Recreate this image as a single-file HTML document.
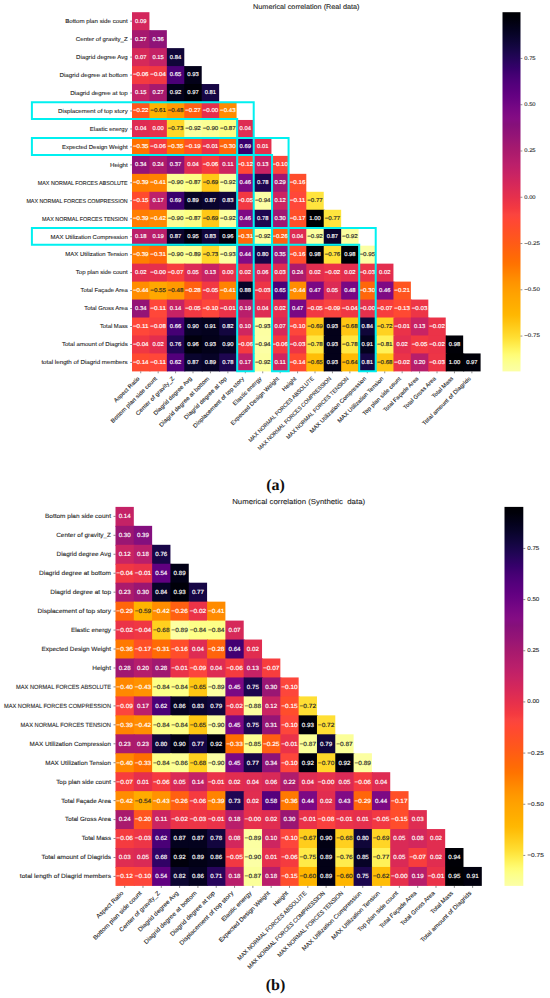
<!DOCTYPE html>
<html><head><meta charset="utf-8"><style>
html,body{margin:0;padding:0;background:#fff;width:550px;height:998px;overflow:hidden;}
svg{display:block;}
text{font-family:"Liberation Sans",sans-serif;white-space:pre;text-rendering:geometricPrecision;}
</style></head><body>
<svg width="550" height="998" viewBox="0 0 550 998">
<rect x="0" y="0" width="550" height="998" fill="#fff"/>
<rect x="132.00" y="12.20" width="17.43" height="18.96" fill="#d3275c"/>
<rect x="132.00" y="30.16" width="18.43" height="18.96" fill="#a6196e"/>
<rect x="149.43" y="30.16" width="17.43" height="18.96" fill="#8f1378"/>
<rect x="132.00" y="48.12" width="18.43" height="18.96" fill="#d62959"/>
<rect x="149.43" y="48.12" width="18.43" height="18.96" fill="#c42266"/>
<rect x="166.86" y="48.12" width="17.43" height="18.96" fill="#100639"/>
<rect x="132.00" y="66.08" width="18.43" height="18.96" fill="#f43a40"/>
<rect x="149.43" y="66.08" width="18.43" height="18.96" fill="#f03743"/>
<rect x="166.86" y="66.08" width="18.43" height="18.96" fill="#4a0077"/>
<rect x="184.29" y="66.08" width="17.43" height="18.96" fill="#030119"/>
<rect x="132.00" y="84.04" width="18.43" height="18.96" fill="#c42266"/>
<rect x="149.43" y="84.04" width="18.43" height="18.96" fill="#a6196e"/>
<rect x="166.86" y="84.04" width="18.43" height="18.96" fill="#03021b"/>
<rect x="184.29" y="84.04" width="18.43" height="18.96" fill="#000009"/>
<rect x="201.72" y="84.04" width="17.43" height="18.96" fill="#160645"/>
<rect x="132.00" y="102.00" width="18.43" height="18.96" fill="#ff561d"/>
<rect x="149.43" y="102.00" width="18.43" height="18.96" fill="#ffb300"/>
<rect x="166.86" y="102.00" width="18.43" height="18.96" fill="#ff9a00"/>
<rect x="184.29" y="102.00" width="18.43" height="18.96" fill="#ff6011"/>
<rect x="201.72" y="102.00" width="18.43" height="18.96" fill="#e6304c"/>
<rect x="219.15" y="102.00" width="17.43" height="18.96" fill="#ff8b00"/>
<rect x="132.00" y="119.96" width="18.43" height="18.96" fill="#de2c53"/>
<rect x="149.43" y="119.96" width="18.43" height="18.96" fill="#e6304c"/>
<rect x="166.86" y="119.96" width="18.43" height="18.96" fill="#ffd729"/>
<rect x="184.29" y="119.96" width="18.43" height="18.96" fill="#fcff9f"/>
<rect x="201.72" y="119.96" width="18.43" height="18.96" fill="#fbff95"/>
<rect x="219.15" y="119.96" width="18.43" height="18.96" fill="#fdff84"/>
<rect x="236.58" y="119.96" width="17.43" height="18.96" fill="#de2c53"/>
<rect x="132.00" y="137.92" width="18.43" height="18.96" fill="#ff7200"/>
<rect x="149.43" y="137.92" width="18.43" height="18.96" fill="#f43a40"/>
<rect x="166.86" y="137.92" width="18.43" height="18.96" fill="#ff7200"/>
<rect x="184.29" y="137.92" width="18.43" height="18.96" fill="#ff5125"/>
<rect x="201.72" y="137.92" width="18.43" height="18.96" fill="#ea3249"/>
<rect x="219.15" y="137.92" width="18.43" height="18.96" fill="#ff660a"/>
<rect x="236.58" y="137.92" width="18.43" height="18.96" fill="#39006d"/>
<rect x="254.01" y="137.92" width="17.43" height="18.96" fill="#e52f4d"/>
<rect x="132.00" y="155.88" width="18.43" height="18.96" fill="#941476"/>
<rect x="149.43" y="155.88" width="18.43" height="18.96" fill="#ad1b6d"/>
<rect x="166.86" y="155.88" width="18.43" height="18.96" fill="#8d1278"/>
<rect x="184.29" y="155.88" width="18.43" height="18.96" fill="#de2c53"/>
<rect x="201.72" y="155.88" width="18.43" height="18.96" fill="#f43a40"/>
<rect x="219.15" y="155.88" width="18.43" height="18.96" fill="#cd2560"/>
<rect x="236.58" y="155.88" width="18.43" height="18.96" fill="#ff4736"/>
<rect x="254.01" y="155.88" width="18.43" height="18.96" fill="#c82364"/>
<rect x="271.44" y="155.88" width="17.43" height="18.96" fill="#fd463b"/>
<rect x="132.00" y="173.84" width="18.43" height="18.96" fill="#ff7e00"/>
<rect x="149.43" y="173.84" width="18.43" height="18.96" fill="#ff8300"/>
<rect x="166.86" y="173.84" width="18.43" height="18.96" fill="#fbff95"/>
<rect x="184.29" y="173.84" width="18.43" height="18.96" fill="#fdff84"/>
<rect x="201.72" y="173.84" width="18.43" height="18.96" fill="#ffc816"/>
<rect x="219.15" y="173.84" width="18.43" height="18.96" fill="#fcff9f"/>
<rect x="236.58" y="173.84" width="18.43" height="18.96" fill="#7e0a84"/>
<rect x="254.01" y="173.84" width="18.43" height="18.96" fill="#1e0650"/>
<rect x="271.44" y="173.84" width="18.43" height="18.96" fill="#a01871"/>
<rect x="288.87" y="173.84" width="17.43" height="18.96" fill="#ff4d2c"/>
<rect x="132.00" y="191.80" width="18.43" height="18.96" fill="#ff4b2e"/>
<rect x="149.43" y="191.80" width="18.43" height="18.96" fill="#be206a"/>
<rect x="166.86" y="191.80" width="18.43" height="18.96" fill="#39006d"/>
<rect x="184.29" y="191.80" width="18.43" height="18.96" fill="#070326"/>
<rect x="201.72" y="191.80" width="18.43" height="18.96" fill="#0a052e"/>
<rect x="219.15" y="191.80" width="18.43" height="18.96" fill="#11063c"/>
<rect x="236.58" y="191.80" width="18.43" height="18.96" fill="#f23842"/>
<rect x="254.01" y="191.80" width="18.43" height="18.96" fill="#fcffa5"/>
<rect x="271.44" y="191.80" width="18.43" height="18.96" fill="#cb2461"/>
<rect x="288.87" y="191.80" width="18.43" height="18.96" fill="#ff4739"/>
<rect x="306.30" y="191.80" width="17.43" height="18.96" fill="#ffe43e"/>
<rect x="132.00" y="209.76" width="18.43" height="18.96" fill="#ff7e00"/>
<rect x="149.43" y="209.76" width="18.43" height="18.96" fill="#ff8800"/>
<rect x="166.86" y="209.76" width="18.43" height="18.96" fill="#fbff95"/>
<rect x="184.29" y="209.76" width="18.43" height="18.96" fill="#fdff84"/>
<rect x="201.72" y="209.76" width="18.43" height="18.96" fill="#ffc816"/>
<rect x="219.15" y="209.76" width="18.43" height="18.96" fill="#fcff9f"/>
<rect x="236.58" y="209.76" width="18.43" height="18.96" fill="#7e0a84"/>
<rect x="254.01" y="209.76" width="18.43" height="18.96" fill="#1e0650"/>
<rect x="271.44" y="209.76" width="18.43" height="18.96" fill="#9e1772"/>
<rect x="288.87" y="209.76" width="18.43" height="18.96" fill="#ff4f28"/>
<rect x="306.30" y="209.76" width="18.43" height="18.96" fill="#000004"/>
<rect x="323.73" y="209.76" width="17.43" height="18.96" fill="#ffe43e"/>
<rect x="132.00" y="227.72" width="18.43" height="18.96" fill="#bc1f6b"/>
<rect x="149.43" y="227.72" width="18.43" height="18.96" fill="#b91e6b"/>
<rect x="166.86" y="227.72" width="18.43" height="18.96" fill="#0a052e"/>
<rect x="184.29" y="227.72" width="18.43" height="18.96" fill="#010011"/>
<rect x="201.72" y="227.72" width="18.43" height="18.96" fill="#11063c"/>
<rect x="219.15" y="227.72" width="18.43" height="18.96" fill="#01000e"/>
<rect x="236.58" y="227.72" width="18.43" height="18.96" fill="#ff6809"/>
<rect x="254.01" y="227.72" width="18.43" height="18.96" fill="#fcff9f"/>
<rect x="271.44" y="227.72" width="18.43" height="18.96" fill="#ff5f13"/>
<rect x="288.87" y="227.72" width="18.43" height="18.96" fill="#de2c53"/>
<rect x="306.30" y="227.72" width="18.43" height="18.96" fill="#fcff9f"/>
<rect x="323.73" y="227.72" width="18.43" height="18.96" fill="#0a052e"/>
<rect x="341.16" y="227.72" width="17.43" height="18.96" fill="#fcff9f"/>
<rect x="132.00" y="245.68" width="18.43" height="18.96" fill="#ff7e00"/>
<rect x="149.43" y="245.68" width="18.43" height="18.96" fill="#ff6809"/>
<rect x="166.86" y="245.68" width="18.43" height="18.96" fill="#fbff95"/>
<rect x="184.29" y="245.68" width="18.43" height="18.96" fill="#fcff91"/>
<rect x="201.72" y="245.68" width="18.43" height="18.96" fill="#ffd729"/>
<rect x="219.15" y="245.68" width="18.43" height="18.96" fill="#fcffa2"/>
<rect x="236.58" y="245.68" width="18.43" height="18.96" fill="#820c85"/>
<rect x="254.01" y="245.68" width="18.43" height="18.96" fill="#180648"/>
<rect x="271.44" y="245.68" width="18.43" height="18.96" fill="#911377"/>
<rect x="288.87" y="245.68" width="18.43" height="18.96" fill="#ff4d2c"/>
<rect x="306.30" y="245.68" width="18.43" height="18.96" fill="#000007"/>
<rect x="323.73" y="245.68" width="18.43" height="18.96" fill="#ffe239"/>
<rect x="341.16" y="245.68" width="18.43" height="18.96" fill="#000007"/>
<rect x="358.59" y="245.68" width="17.43" height="18.96" fill="#fcffa5"/>
<rect x="132.00" y="263.64" width="18.43" height="18.96" fill="#e32e4f"/>
<rect x="149.43" y="263.64" width="18.43" height="18.96" fill="#e6304c"/>
<rect x="166.86" y="263.64" width="18.43" height="18.96" fill="#f73d3d"/>
<rect x="184.29" y="263.64" width="18.43" height="18.96" fill="#dc2b55"/>
<rect x="201.72" y="263.64" width="18.43" height="18.96" fill="#c82364"/>
<rect x="219.15" y="263.64" width="18.43" height="18.96" fill="#e6304c"/>
<rect x="236.58" y="263.64" width="18.43" height="18.96" fill="#e32e4f"/>
<rect x="254.01" y="263.64" width="18.43" height="18.96" fill="#d82958"/>
<rect x="271.44" y="263.64" width="18.43" height="18.96" fill="#df2d52"/>
<rect x="288.87" y="263.64" width="18.43" height="18.96" fill="#ad1b6d"/>
<rect x="306.30" y="263.64" width="18.43" height="18.96" fill="#e32e4f"/>
<rect x="323.73" y="263.64" width="18.43" height="18.96" fill="#eb3348"/>
<rect x="341.16" y="263.64" width="18.43" height="18.96" fill="#e32e4f"/>
<rect x="358.59" y="263.64" width="18.43" height="18.96" fill="#ed3546"/>
<rect x="376.02" y="263.64" width="17.43" height="18.96" fill="#e32e4f"/>
<rect x="132.00" y="281.60" width="18.43" height="18.96" fill="#ff8d00"/>
<rect x="149.43" y="281.60" width="18.43" height="18.96" fill="#ffa800"/>
<rect x="166.86" y="281.60" width="18.43" height="18.96" fill="#ff9a00"/>
<rect x="184.29" y="281.60" width="18.43" height="18.96" fill="#ff610f"/>
<rect x="201.72" y="281.60" width="18.43" height="18.96" fill="#f23842"/>
<rect x="219.15" y="281.60" width="18.43" height="18.96" fill="#ff8300"/>
<rect x="236.58" y="281.60" width="18.43" height="18.96" fill="#080428"/>
<rect x="254.01" y="281.60" width="18.43" height="18.96" fill="#ed3546"/>
<rect x="271.44" y="281.60" width="18.43" height="18.96" fill="#4a0077"/>
<rect x="288.87" y="281.60" width="18.43" height="18.96" fill="#ff8d00"/>
<rect x="306.30" y="281.60" width="18.43" height="18.96" fill="#7a0884"/>
<rect x="323.73" y="281.60" width="18.43" height="18.96" fill="#dc2b55"/>
<rect x="341.16" y="281.60" width="18.43" height="18.96" fill="#780884"/>
<rect x="358.59" y="281.60" width="18.43" height="18.96" fill="#ff660a"/>
<rect x="376.02" y="281.60" width="18.43" height="18.96" fill="#7e0a84"/>
<rect x="393.45" y="281.60" width="17.43" height="18.96" fill="#ff551f"/>
<rect x="132.00" y="299.56" width="18.43" height="18.96" fill="#941476"/>
<rect x="149.43" y="299.56" width="18.43" height="18.96" fill="#ff4739"/>
<rect x="166.86" y="299.56" width="18.43" height="18.96" fill="#c62265"/>
<rect x="184.29" y="299.56" width="18.43" height="18.96" fill="#f23842"/>
<rect x="201.72" y="299.56" width="18.43" height="18.96" fill="#fd463b"/>
<rect x="219.15" y="299.56" width="18.43" height="18.96" fill="#ea3249"/>
<rect x="236.58" y="299.56" width="18.43" height="18.96" fill="#b91e6b"/>
<rect x="254.01" y="299.56" width="18.43" height="18.96" fill="#de2c53"/>
<rect x="271.44" y="299.56" width="18.43" height="18.96" fill="#e32e4f"/>
<rect x="288.87" y="299.56" width="18.43" height="18.96" fill="#7a0884"/>
<rect x="306.30" y="299.56" width="18.43" height="18.96" fill="#f23842"/>
<rect x="323.73" y="299.56" width="18.43" height="18.96" fill="#fa443f"/>
<rect x="341.16" y="299.56" width="18.43" height="18.96" fill="#f03743"/>
<rect x="358.59" y="299.56" width="18.43" height="18.96" fill="#e6304c"/>
<rect x="376.02" y="299.56" width="18.43" height="18.96" fill="#f73d3d"/>
<rect x="393.45" y="299.56" width="18.43" height="18.96" fill="#ff4932"/>
<rect x="410.88" y="299.56" width="17.43" height="18.96" fill="#ed3546"/>
<rect x="132.00" y="317.52" width="18.43" height="18.96" fill="#ff4739"/>
<rect x="149.43" y="317.52" width="18.43" height="18.96" fill="#f9403e"/>
<rect x="166.86" y="317.52" width="18.43" height="18.96" fill="#450074"/>
<rect x="184.29" y="317.52" width="18.43" height="18.96" fill="#060323"/>
<rect x="201.72" y="317.52" width="18.43" height="18.96" fill="#04021e"/>
<rect x="219.15" y="317.52" width="18.43" height="18.96" fill="#13063f"/>
<rect x="236.58" y="317.52" width="18.43" height="18.96" fill="#cf265f"/>
<rect x="254.01" y="317.52" width="18.43" height="18.96" fill="#fcffa2"/>
<rect x="271.44" y="317.52" width="18.43" height="18.96" fill="#d62959"/>
<rect x="288.87" y="317.52" width="18.43" height="18.96" fill="#fd463b"/>
<rect x="306.30" y="317.52" width="18.43" height="18.96" fill="#ffc816"/>
<rect x="323.73" y="317.52" width="18.43" height="18.96" fill="#030119"/>
<rect x="341.16" y="317.52" width="18.43" height="18.96" fill="#ffc613"/>
<rect x="358.59" y="317.52" width="18.43" height="18.96" fill="#100639"/>
<rect x="376.02" y="317.52" width="18.43" height="18.96" fill="#ffd222"/>
<rect x="393.45" y="317.52" width="18.43" height="18.96" fill="#ea3249"/>
<rect x="410.88" y="317.52" width="18.43" height="18.96" fill="#c82364"/>
<rect x="428.31" y="317.52" width="17.43" height="18.96" fill="#eb3348"/>
<rect x="132.00" y="335.48" width="18.43" height="18.96" fill="#f03743"/>
<rect x="149.43" y="335.48" width="18.43" height="18.96" fill="#e32e4f"/>
<rect x="166.86" y="335.48" width="18.43" height="18.96" fill="#220556"/>
<rect x="184.29" y="335.48" width="18.43" height="18.96" fill="#01000e"/>
<rect x="201.72" y="335.48" width="18.43" height="18.96" fill="#030119"/>
<rect x="219.15" y="335.48" width="18.43" height="18.96" fill="#060323"/>
<rect x="236.58" y="335.48" width="18.43" height="18.96" fill="#f43a40"/>
<rect x="254.01" y="335.48" width="18.43" height="18.96" fill="#fcffa5"/>
<rect x="271.44" y="335.48" width="18.43" height="18.96" fill="#f43a40"/>
<rect x="288.87" y="335.48" width="18.43" height="18.96" fill="#ed3546"/>
<rect x="306.30" y="335.48" width="18.43" height="18.96" fill="#ffe743"/>
<rect x="323.73" y="335.48" width="18.43" height="18.96" fill="#030119"/>
<rect x="341.16" y="335.48" width="18.43" height="18.96" fill="#ffe743"/>
<rect x="358.59" y="335.48" width="18.43" height="18.96" fill="#04021e"/>
<rect x="376.02" y="335.48" width="18.43" height="18.96" fill="#fff159"/>
<rect x="393.45" y="335.48" width="18.43" height="18.96" fill="#e32e4f"/>
<rect x="410.88" y="335.48" width="18.43" height="18.96" fill="#f23842"/>
<rect x="428.31" y="335.48" width="18.43" height="18.96" fill="#eb3348"/>
<rect x="445.74" y="335.48" width="17.43" height="18.96" fill="#000007"/>
<rect x="132.00" y="353.44" width="18.43" height="17.96" fill="#ff4a30"/>
<rect x="149.43" y="353.44" width="18.43" height="17.96" fill="#ff4739"/>
<rect x="166.86" y="353.44" width="18.43" height="17.96" fill="#52007b"/>
<rect x="184.29" y="353.44" width="18.43" height="17.96" fill="#0a052e"/>
<rect x="201.72" y="353.44" width="18.43" height="17.96" fill="#070326"/>
<rect x="219.15" y="353.44" width="18.43" height="17.96" fill="#1e0650"/>
<rect x="236.58" y="353.44" width="18.43" height="17.96" fill="#be206a"/>
<rect x="254.01" y="353.44" width="18.43" height="17.96" fill="#fcff9f"/>
<rect x="271.44" y="353.44" width="18.43" height="17.96" fill="#cd2560"/>
<rect x="288.87" y="353.44" width="18.43" height="17.96" fill="#ff4a30"/>
<rect x="306.30" y="353.44" width="18.43" height="17.96" fill="#ffbd07"/>
<rect x="323.73" y="353.44" width="18.43" height="17.96" fill="#030119"/>
<rect x="341.16" y="353.44" width="18.43" height="17.96" fill="#ffba05"/>
<rect x="358.59" y="353.44" width="18.43" height="17.96" fill="#160645"/>
<rect x="376.02" y="353.44" width="18.43" height="17.96" fill="#ffc613"/>
<rect x="393.45" y="353.44" width="18.43" height="17.96" fill="#eb3348"/>
<rect x="410.88" y="353.44" width="18.43" height="17.96" fill="#b71e6b"/>
<rect x="428.31" y="353.44" width="18.43" height="17.96" fill="#ed3546"/>
<rect x="445.74" y="353.44" width="18.43" height="17.96" fill="#000004"/>
<rect x="463.17" y="353.44" width="17.43" height="17.96" fill="#000009"/>
<text x="140.72" y="22.59" font-size="5.61" text-anchor="middle" fill="#ffffff" stroke="#ffffff" stroke-width="0.15" textLength="11.36" lengthAdjust="spacingAndGlyphs">0.09</text>
<text x="140.72" y="40.55" font-size="5.61" text-anchor="middle" fill="#ffffff" stroke="#ffffff" stroke-width="0.15" textLength="11.36" lengthAdjust="spacingAndGlyphs">0.27</text>
<text x="158.15" y="40.55" font-size="5.61" text-anchor="middle" fill="#ffffff" stroke="#ffffff" stroke-width="0.15" textLength="11.36" lengthAdjust="spacingAndGlyphs">0.36</text>
<text x="140.72" y="58.51" font-size="5.61" text-anchor="middle" fill="#ffffff" stroke="#ffffff" stroke-width="0.15" textLength="11.36" lengthAdjust="spacingAndGlyphs">0.07</text>
<text x="158.15" y="58.51" font-size="5.61" text-anchor="middle" fill="#ffffff" stroke="#ffffff" stroke-width="0.15" textLength="11.36" lengthAdjust="spacingAndGlyphs">0.15</text>
<text x="175.57" y="58.51" font-size="5.61" text-anchor="middle" fill="#ffffff" stroke="#ffffff" stroke-width="0.15" textLength="11.36" lengthAdjust="spacingAndGlyphs">0.84</text>
<text x="140.72" y="76.47" font-size="5.61" text-anchor="middle" fill="#ffffff" stroke="#ffffff" stroke-width="0.15" textLength="15.63" lengthAdjust="spacingAndGlyphs">−0.06</text>
<text x="158.15" y="76.47" font-size="5.61" text-anchor="middle" fill="#ffffff" stroke="#ffffff" stroke-width="0.15" textLength="15.63" lengthAdjust="spacingAndGlyphs">−0.04</text>
<text x="175.57" y="76.47" font-size="5.61" text-anchor="middle" fill="#ffffff" stroke="#ffffff" stroke-width="0.15" textLength="11.36" lengthAdjust="spacingAndGlyphs">0.65</text>
<text x="193.00" y="76.47" font-size="5.61" text-anchor="middle" fill="#ffffff" stroke="#ffffff" stroke-width="0.15" textLength="11.36" lengthAdjust="spacingAndGlyphs">0.93</text>
<text x="140.72" y="94.43" font-size="5.61" text-anchor="middle" fill="#ffffff" stroke="#ffffff" stroke-width="0.15" textLength="11.36" lengthAdjust="spacingAndGlyphs">0.15</text>
<text x="158.15" y="94.43" font-size="5.61" text-anchor="middle" fill="#ffffff" stroke="#ffffff" stroke-width="0.15" textLength="11.36" lengthAdjust="spacingAndGlyphs">0.27</text>
<text x="175.57" y="94.43" font-size="5.61" text-anchor="middle" fill="#ffffff" stroke="#ffffff" stroke-width="0.15" textLength="11.36" lengthAdjust="spacingAndGlyphs">0.92</text>
<text x="193.00" y="94.43" font-size="5.61" text-anchor="middle" fill="#ffffff" stroke="#ffffff" stroke-width="0.15" textLength="11.36" lengthAdjust="spacingAndGlyphs">0.97</text>
<text x="210.44" y="94.43" font-size="5.61" text-anchor="middle" fill="#ffffff" stroke="#ffffff" stroke-width="0.15" textLength="11.36" lengthAdjust="spacingAndGlyphs">0.81</text>
<text x="140.72" y="112.39" font-size="5.61" text-anchor="middle" fill="#ffffff" stroke="#ffffff" stroke-width="0.15" textLength="15.63" lengthAdjust="spacingAndGlyphs">−0.22</text>
<text x="158.15" y="112.39" font-size="5.61" text-anchor="middle" fill="#262626" stroke="#262626" stroke-width="0.15" textLength="15.63" lengthAdjust="spacingAndGlyphs">−0.61</text>
<text x="175.57" y="112.39" font-size="5.61" text-anchor="middle" fill="#262626" stroke="#262626" stroke-width="0.15" textLength="15.63" lengthAdjust="spacingAndGlyphs">−0.48</text>
<text x="193.00" y="112.39" font-size="5.61" text-anchor="middle" fill="#ffffff" stroke="#ffffff" stroke-width="0.15" textLength="15.63" lengthAdjust="spacingAndGlyphs">−0.27</text>
<text x="210.44" y="112.39" font-size="5.61" text-anchor="middle" fill="#ffffff" stroke="#ffffff" stroke-width="0.15" textLength="15.63" lengthAdjust="spacingAndGlyphs">−0.00</text>
<text x="227.87" y="112.39" font-size="5.61" text-anchor="middle" fill="#ffffff" stroke="#ffffff" stroke-width="0.15" textLength="15.63" lengthAdjust="spacingAndGlyphs">−0.43</text>
<text x="140.72" y="130.35" font-size="5.61" text-anchor="middle" fill="#ffffff" stroke="#ffffff" stroke-width="0.15" textLength="11.36" lengthAdjust="spacingAndGlyphs">0.04</text>
<text x="158.15" y="130.35" font-size="5.61" text-anchor="middle" fill="#ffffff" stroke="#ffffff" stroke-width="0.15" textLength="11.36" lengthAdjust="spacingAndGlyphs">0.00</text>
<text x="175.57" y="130.35" font-size="5.61" text-anchor="middle" fill="#262626" stroke="#262626" stroke-width="0.15" textLength="15.63" lengthAdjust="spacingAndGlyphs">−0.73</text>
<text x="193.00" y="130.35" font-size="5.61" text-anchor="middle" fill="#262626" stroke="#262626" stroke-width="0.15" textLength="15.63" lengthAdjust="spacingAndGlyphs">−0.92</text>
<text x="210.44" y="130.35" font-size="5.61" text-anchor="middle" fill="#262626" stroke="#262626" stroke-width="0.15" textLength="15.63" lengthAdjust="spacingAndGlyphs">−0.90</text>
<text x="227.87" y="130.35" font-size="5.61" text-anchor="middle" fill="#262626" stroke="#262626" stroke-width="0.15" textLength="15.63" lengthAdjust="spacingAndGlyphs">−0.87</text>
<text x="245.30" y="130.35" font-size="5.61" text-anchor="middle" fill="#ffffff" stroke="#ffffff" stroke-width="0.15" textLength="11.36" lengthAdjust="spacingAndGlyphs">0.04</text>
<text x="140.72" y="148.31" font-size="5.61" text-anchor="middle" fill="#ffffff" stroke="#ffffff" stroke-width="0.15" textLength="15.63" lengthAdjust="spacingAndGlyphs">−0.35</text>
<text x="158.15" y="148.31" font-size="5.61" text-anchor="middle" fill="#ffffff" stroke="#ffffff" stroke-width="0.15" textLength="15.63" lengthAdjust="spacingAndGlyphs">−0.06</text>
<text x="175.57" y="148.31" font-size="5.61" text-anchor="middle" fill="#ffffff" stroke="#ffffff" stroke-width="0.15" textLength="15.63" lengthAdjust="spacingAndGlyphs">−0.35</text>
<text x="193.00" y="148.31" font-size="5.61" text-anchor="middle" fill="#ffffff" stroke="#ffffff" stroke-width="0.15" textLength="15.63" lengthAdjust="spacingAndGlyphs">−0.19</text>
<text x="210.44" y="148.31" font-size="5.61" text-anchor="middle" fill="#ffffff" stroke="#ffffff" stroke-width="0.15" textLength="15.63" lengthAdjust="spacingAndGlyphs">−0.01</text>
<text x="227.87" y="148.31" font-size="5.61" text-anchor="middle" fill="#ffffff" stroke="#ffffff" stroke-width="0.15" textLength="15.63" lengthAdjust="spacingAndGlyphs">−0.30</text>
<text x="245.30" y="148.31" font-size="5.61" text-anchor="middle" fill="#ffffff" stroke="#ffffff" stroke-width="0.15" textLength="11.36" lengthAdjust="spacingAndGlyphs">0.69</text>
<text x="262.73" y="148.31" font-size="5.61" text-anchor="middle" fill="#ffffff" stroke="#ffffff" stroke-width="0.15" textLength="11.36" lengthAdjust="spacingAndGlyphs">0.01</text>
<text x="140.72" y="166.27" font-size="5.61" text-anchor="middle" fill="#ffffff" stroke="#ffffff" stroke-width="0.15" textLength="11.36" lengthAdjust="spacingAndGlyphs">0.34</text>
<text x="158.15" y="166.27" font-size="5.61" text-anchor="middle" fill="#ffffff" stroke="#ffffff" stroke-width="0.15" textLength="11.36" lengthAdjust="spacingAndGlyphs">0.24</text>
<text x="175.57" y="166.27" font-size="5.61" text-anchor="middle" fill="#ffffff" stroke="#ffffff" stroke-width="0.15" textLength="11.36" lengthAdjust="spacingAndGlyphs">0.37</text>
<text x="193.00" y="166.27" font-size="5.61" text-anchor="middle" fill="#ffffff" stroke="#ffffff" stroke-width="0.15" textLength="11.36" lengthAdjust="spacingAndGlyphs">0.04</text>
<text x="210.44" y="166.27" font-size="5.61" text-anchor="middle" fill="#ffffff" stroke="#ffffff" stroke-width="0.15" textLength="15.63" lengthAdjust="spacingAndGlyphs">−0.06</text>
<text x="227.87" y="166.27" font-size="5.61" text-anchor="middle" fill="#ffffff" stroke="#ffffff" stroke-width="0.15" textLength="11.36" lengthAdjust="spacingAndGlyphs">0.11</text>
<text x="245.30" y="166.27" font-size="5.61" text-anchor="middle" fill="#ffffff" stroke="#ffffff" stroke-width="0.15" textLength="15.63" lengthAdjust="spacingAndGlyphs">−0.12</text>
<text x="262.73" y="166.27" font-size="5.61" text-anchor="middle" fill="#ffffff" stroke="#ffffff" stroke-width="0.15" textLength="11.36" lengthAdjust="spacingAndGlyphs">0.13</text>
<text x="280.15" y="166.27" font-size="5.61" text-anchor="middle" fill="#ffffff" stroke="#ffffff" stroke-width="0.15" textLength="15.63" lengthAdjust="spacingAndGlyphs">−0.10</text>
<text x="140.72" y="184.23" font-size="5.61" text-anchor="middle" fill="#ffffff" stroke="#ffffff" stroke-width="0.15" textLength="15.63" lengthAdjust="spacingAndGlyphs">−0.39</text>
<text x="158.15" y="184.23" font-size="5.61" text-anchor="middle" fill="#ffffff" stroke="#ffffff" stroke-width="0.15" textLength="15.63" lengthAdjust="spacingAndGlyphs">−0.41</text>
<text x="175.57" y="184.23" font-size="5.61" text-anchor="middle" fill="#262626" stroke="#262626" stroke-width="0.15" textLength="15.63" lengthAdjust="spacingAndGlyphs">−0.90</text>
<text x="193.00" y="184.23" font-size="5.61" text-anchor="middle" fill="#262626" stroke="#262626" stroke-width="0.15" textLength="15.63" lengthAdjust="spacingAndGlyphs">−0.87</text>
<text x="210.44" y="184.23" font-size="5.61" text-anchor="middle" fill="#262626" stroke="#262626" stroke-width="0.15" textLength="15.63" lengthAdjust="spacingAndGlyphs">−0.69</text>
<text x="227.87" y="184.23" font-size="5.61" text-anchor="middle" fill="#262626" stroke="#262626" stroke-width="0.15" textLength="15.63" lengthAdjust="spacingAndGlyphs">−0.92</text>
<text x="245.30" y="184.23" font-size="5.61" text-anchor="middle" fill="#ffffff" stroke="#ffffff" stroke-width="0.15" textLength="11.36" lengthAdjust="spacingAndGlyphs">0.46</text>
<text x="262.73" y="184.23" font-size="5.61" text-anchor="middle" fill="#ffffff" stroke="#ffffff" stroke-width="0.15" textLength="11.36" lengthAdjust="spacingAndGlyphs">0.78</text>
<text x="280.15" y="184.23" font-size="5.61" text-anchor="middle" fill="#ffffff" stroke="#ffffff" stroke-width="0.15" textLength="11.36" lengthAdjust="spacingAndGlyphs">0.29</text>
<text x="297.59" y="184.23" font-size="5.61" text-anchor="middle" fill="#ffffff" stroke="#ffffff" stroke-width="0.15" textLength="15.63" lengthAdjust="spacingAndGlyphs">−0.16</text>
<text x="140.72" y="202.19" font-size="5.61" text-anchor="middle" fill="#ffffff" stroke="#ffffff" stroke-width="0.15" textLength="15.63" lengthAdjust="spacingAndGlyphs">−0.15</text>
<text x="158.15" y="202.19" font-size="5.61" text-anchor="middle" fill="#ffffff" stroke="#ffffff" stroke-width="0.15" textLength="11.36" lengthAdjust="spacingAndGlyphs">0.17</text>
<text x="175.57" y="202.19" font-size="5.61" text-anchor="middle" fill="#ffffff" stroke="#ffffff" stroke-width="0.15" textLength="11.36" lengthAdjust="spacingAndGlyphs">0.69</text>
<text x="193.00" y="202.19" font-size="5.61" text-anchor="middle" fill="#ffffff" stroke="#ffffff" stroke-width="0.15" textLength="11.36" lengthAdjust="spacingAndGlyphs">0.89</text>
<text x="210.44" y="202.19" font-size="5.61" text-anchor="middle" fill="#ffffff" stroke="#ffffff" stroke-width="0.15" textLength="11.36" lengthAdjust="spacingAndGlyphs">0.87</text>
<text x="227.87" y="202.19" font-size="5.61" text-anchor="middle" fill="#ffffff" stroke="#ffffff" stroke-width="0.15" textLength="11.36" lengthAdjust="spacingAndGlyphs">0.83</text>
<text x="245.30" y="202.19" font-size="5.61" text-anchor="middle" fill="#ffffff" stroke="#ffffff" stroke-width="0.15" textLength="15.63" lengthAdjust="spacingAndGlyphs">−0.05</text>
<text x="262.73" y="202.19" font-size="5.61" text-anchor="middle" fill="#262626" stroke="#262626" stroke-width="0.15" textLength="15.63" lengthAdjust="spacingAndGlyphs">−0.94</text>
<text x="280.15" y="202.19" font-size="5.61" text-anchor="middle" fill="#ffffff" stroke="#ffffff" stroke-width="0.15" textLength="11.36" lengthAdjust="spacingAndGlyphs">0.12</text>
<text x="297.59" y="202.19" font-size="5.61" text-anchor="middle" fill="#ffffff" stroke="#ffffff" stroke-width="0.15" textLength="15.63" lengthAdjust="spacingAndGlyphs">−0.11</text>
<text x="315.01" y="202.19" font-size="5.61" text-anchor="middle" fill="#262626" stroke="#262626" stroke-width="0.15" textLength="15.63" lengthAdjust="spacingAndGlyphs">−0.77</text>
<text x="140.72" y="220.15" font-size="5.61" text-anchor="middle" fill="#ffffff" stroke="#ffffff" stroke-width="0.15" textLength="15.63" lengthAdjust="spacingAndGlyphs">−0.39</text>
<text x="158.15" y="220.15" font-size="5.61" text-anchor="middle" fill="#ffffff" stroke="#ffffff" stroke-width="0.15" textLength="15.63" lengthAdjust="spacingAndGlyphs">−0.42</text>
<text x="175.57" y="220.15" font-size="5.61" text-anchor="middle" fill="#262626" stroke="#262626" stroke-width="0.15" textLength="15.63" lengthAdjust="spacingAndGlyphs">−0.90</text>
<text x="193.00" y="220.15" font-size="5.61" text-anchor="middle" fill="#262626" stroke="#262626" stroke-width="0.15" textLength="15.63" lengthAdjust="spacingAndGlyphs">−0.87</text>
<text x="210.44" y="220.15" font-size="5.61" text-anchor="middle" fill="#262626" stroke="#262626" stroke-width="0.15" textLength="15.63" lengthAdjust="spacingAndGlyphs">−0.69</text>
<text x="227.87" y="220.15" font-size="5.61" text-anchor="middle" fill="#262626" stroke="#262626" stroke-width="0.15" textLength="15.63" lengthAdjust="spacingAndGlyphs">−0.92</text>
<text x="245.30" y="220.15" font-size="5.61" text-anchor="middle" fill="#ffffff" stroke="#ffffff" stroke-width="0.15" textLength="11.36" lengthAdjust="spacingAndGlyphs">0.46</text>
<text x="262.73" y="220.15" font-size="5.61" text-anchor="middle" fill="#ffffff" stroke="#ffffff" stroke-width="0.15" textLength="11.36" lengthAdjust="spacingAndGlyphs">0.78</text>
<text x="280.15" y="220.15" font-size="5.61" text-anchor="middle" fill="#ffffff" stroke="#ffffff" stroke-width="0.15" textLength="11.36" lengthAdjust="spacingAndGlyphs">0.30</text>
<text x="297.59" y="220.15" font-size="5.61" text-anchor="middle" fill="#ffffff" stroke="#ffffff" stroke-width="0.15" textLength="15.63" lengthAdjust="spacingAndGlyphs">−0.17</text>
<text x="315.01" y="220.15" font-size="5.61" text-anchor="middle" fill="#ffffff" stroke="#ffffff" stroke-width="0.15" textLength="11.36" lengthAdjust="spacingAndGlyphs">1.00</text>
<text x="332.44" y="220.15" font-size="5.61" text-anchor="middle" fill="#262626" stroke="#262626" stroke-width="0.15" textLength="15.63" lengthAdjust="spacingAndGlyphs">−0.77</text>
<text x="140.72" y="238.11" font-size="5.61" text-anchor="middle" fill="#ffffff" stroke="#ffffff" stroke-width="0.15" textLength="11.36" lengthAdjust="spacingAndGlyphs">0.18</text>
<text x="158.15" y="238.11" font-size="5.61" text-anchor="middle" fill="#ffffff" stroke="#ffffff" stroke-width="0.15" textLength="11.36" lengthAdjust="spacingAndGlyphs">0.19</text>
<text x="175.57" y="238.11" font-size="5.61" text-anchor="middle" fill="#ffffff" stroke="#ffffff" stroke-width="0.15" textLength="11.36" lengthAdjust="spacingAndGlyphs">0.87</text>
<text x="193.00" y="238.11" font-size="5.61" text-anchor="middle" fill="#ffffff" stroke="#ffffff" stroke-width="0.15" textLength="11.36" lengthAdjust="spacingAndGlyphs">0.95</text>
<text x="210.44" y="238.11" font-size="5.61" text-anchor="middle" fill="#ffffff" stroke="#ffffff" stroke-width="0.15" textLength="11.36" lengthAdjust="spacingAndGlyphs">0.83</text>
<text x="227.87" y="238.11" font-size="5.61" text-anchor="middle" fill="#ffffff" stroke="#ffffff" stroke-width="0.15" textLength="11.36" lengthAdjust="spacingAndGlyphs">0.96</text>
<text x="245.30" y="238.11" font-size="5.61" text-anchor="middle" fill="#ffffff" stroke="#ffffff" stroke-width="0.15" textLength="15.63" lengthAdjust="spacingAndGlyphs">−0.31</text>
<text x="262.73" y="238.11" font-size="5.61" text-anchor="middle" fill="#262626" stroke="#262626" stroke-width="0.15" textLength="15.63" lengthAdjust="spacingAndGlyphs">−0.92</text>
<text x="280.15" y="238.11" font-size="5.61" text-anchor="middle" fill="#ffffff" stroke="#ffffff" stroke-width="0.15" textLength="15.63" lengthAdjust="spacingAndGlyphs">−0.26</text>
<text x="297.59" y="238.11" font-size="5.61" text-anchor="middle" fill="#ffffff" stroke="#ffffff" stroke-width="0.15" textLength="11.36" lengthAdjust="spacingAndGlyphs">0.04</text>
<text x="315.01" y="238.11" font-size="5.61" text-anchor="middle" fill="#262626" stroke="#262626" stroke-width="0.15" textLength="15.63" lengthAdjust="spacingAndGlyphs">−0.92</text>
<text x="332.44" y="238.11" font-size="5.61" text-anchor="middle" fill="#ffffff" stroke="#ffffff" stroke-width="0.15" textLength="11.36" lengthAdjust="spacingAndGlyphs">0.87</text>
<text x="349.88" y="238.11" font-size="5.61" text-anchor="middle" fill="#262626" stroke="#262626" stroke-width="0.15" textLength="15.63" lengthAdjust="spacingAndGlyphs">−0.92</text>
<text x="140.72" y="256.07" font-size="5.61" text-anchor="middle" fill="#ffffff" stroke="#ffffff" stroke-width="0.15" textLength="15.63" lengthAdjust="spacingAndGlyphs">−0.39</text>
<text x="158.15" y="256.07" font-size="5.61" text-anchor="middle" fill="#ffffff" stroke="#ffffff" stroke-width="0.15" textLength="15.63" lengthAdjust="spacingAndGlyphs">−0.31</text>
<text x="175.57" y="256.07" font-size="5.61" text-anchor="middle" fill="#262626" stroke="#262626" stroke-width="0.15" textLength="15.63" lengthAdjust="spacingAndGlyphs">−0.90</text>
<text x="193.00" y="256.07" font-size="5.61" text-anchor="middle" fill="#262626" stroke="#262626" stroke-width="0.15" textLength="15.63" lengthAdjust="spacingAndGlyphs">−0.89</text>
<text x="210.44" y="256.07" font-size="5.61" text-anchor="middle" fill="#262626" stroke="#262626" stroke-width="0.15" textLength="15.63" lengthAdjust="spacingAndGlyphs">−0.73</text>
<text x="227.87" y="256.07" font-size="5.61" text-anchor="middle" fill="#262626" stroke="#262626" stroke-width="0.15" textLength="15.63" lengthAdjust="spacingAndGlyphs">−0.93</text>
<text x="245.30" y="256.07" font-size="5.61" text-anchor="middle" fill="#ffffff" stroke="#ffffff" stroke-width="0.15" textLength="11.36" lengthAdjust="spacingAndGlyphs">0.44</text>
<text x="262.73" y="256.07" font-size="5.61" text-anchor="middle" fill="#ffffff" stroke="#ffffff" stroke-width="0.15" textLength="11.36" lengthAdjust="spacingAndGlyphs">0.80</text>
<text x="280.15" y="256.07" font-size="5.61" text-anchor="middle" fill="#ffffff" stroke="#ffffff" stroke-width="0.15" textLength="11.36" lengthAdjust="spacingAndGlyphs">0.35</text>
<text x="297.59" y="256.07" font-size="5.61" text-anchor="middle" fill="#ffffff" stroke="#ffffff" stroke-width="0.15" textLength="15.63" lengthAdjust="spacingAndGlyphs">−0.16</text>
<text x="315.01" y="256.07" font-size="5.61" text-anchor="middle" fill="#ffffff" stroke="#ffffff" stroke-width="0.15" textLength="11.36" lengthAdjust="spacingAndGlyphs">0.98</text>
<text x="332.44" y="256.07" font-size="5.61" text-anchor="middle" fill="#262626" stroke="#262626" stroke-width="0.15" textLength="15.63" lengthAdjust="spacingAndGlyphs">−0.76</text>
<text x="349.88" y="256.07" font-size="5.61" text-anchor="middle" fill="#ffffff" stroke="#ffffff" stroke-width="0.15" textLength="11.36" lengthAdjust="spacingAndGlyphs">0.98</text>
<text x="367.31" y="256.07" font-size="5.61" text-anchor="middle" fill="#262626" stroke="#262626" stroke-width="0.15" textLength="15.63" lengthAdjust="spacingAndGlyphs">−0.95</text>
<text x="140.72" y="274.03" font-size="5.61" text-anchor="middle" fill="#ffffff" stroke="#ffffff" stroke-width="0.15" textLength="11.36" lengthAdjust="spacingAndGlyphs">0.02</text>
<text x="158.15" y="274.03" font-size="5.61" text-anchor="middle" fill="#ffffff" stroke="#ffffff" stroke-width="0.15" textLength="15.63" lengthAdjust="spacingAndGlyphs">−0.00</text>
<text x="175.57" y="274.03" font-size="5.61" text-anchor="middle" fill="#ffffff" stroke="#ffffff" stroke-width="0.15" textLength="15.63" lengthAdjust="spacingAndGlyphs">−0.07</text>
<text x="193.00" y="274.03" font-size="5.61" text-anchor="middle" fill="#ffffff" stroke="#ffffff" stroke-width="0.15" textLength="11.36" lengthAdjust="spacingAndGlyphs">0.05</text>
<text x="210.44" y="274.03" font-size="5.61" text-anchor="middle" fill="#ffffff" stroke="#ffffff" stroke-width="0.15" textLength="11.36" lengthAdjust="spacingAndGlyphs">0.13</text>
<text x="227.87" y="274.03" font-size="5.61" text-anchor="middle" fill="#ffffff" stroke="#ffffff" stroke-width="0.15" textLength="11.36" lengthAdjust="spacingAndGlyphs">0.00</text>
<text x="245.30" y="274.03" font-size="5.61" text-anchor="middle" fill="#ffffff" stroke="#ffffff" stroke-width="0.15" textLength="11.36" lengthAdjust="spacingAndGlyphs">0.02</text>
<text x="262.73" y="274.03" font-size="5.61" text-anchor="middle" fill="#ffffff" stroke="#ffffff" stroke-width="0.15" textLength="11.36" lengthAdjust="spacingAndGlyphs">0.06</text>
<text x="280.15" y="274.03" font-size="5.61" text-anchor="middle" fill="#ffffff" stroke="#ffffff" stroke-width="0.15" textLength="11.36" lengthAdjust="spacingAndGlyphs">0.03</text>
<text x="297.59" y="274.03" font-size="5.61" text-anchor="middle" fill="#ffffff" stroke="#ffffff" stroke-width="0.15" textLength="11.36" lengthAdjust="spacingAndGlyphs">0.24</text>
<text x="315.01" y="274.03" font-size="5.61" text-anchor="middle" fill="#ffffff" stroke="#ffffff" stroke-width="0.15" textLength="11.36" lengthAdjust="spacingAndGlyphs">0.02</text>
<text x="332.44" y="274.03" font-size="5.61" text-anchor="middle" fill="#ffffff" stroke="#ffffff" stroke-width="0.15" textLength="15.63" lengthAdjust="spacingAndGlyphs">−0.02</text>
<text x="349.88" y="274.03" font-size="5.61" text-anchor="middle" fill="#ffffff" stroke="#ffffff" stroke-width="0.15" textLength="11.36" lengthAdjust="spacingAndGlyphs">0.02</text>
<text x="367.31" y="274.03" font-size="5.61" text-anchor="middle" fill="#ffffff" stroke="#ffffff" stroke-width="0.15" textLength="15.63" lengthAdjust="spacingAndGlyphs">−0.03</text>
<text x="384.74" y="274.03" font-size="5.61" text-anchor="middle" fill="#ffffff" stroke="#ffffff" stroke-width="0.15" textLength="11.36" lengthAdjust="spacingAndGlyphs">0.02</text>
<text x="140.72" y="291.99" font-size="5.61" text-anchor="middle" fill="#ffffff" stroke="#ffffff" stroke-width="0.15" textLength="15.63" lengthAdjust="spacingAndGlyphs">−0.44</text>
<text x="158.15" y="291.99" font-size="5.61" text-anchor="middle" fill="#262626" stroke="#262626" stroke-width="0.15" textLength="15.63" lengthAdjust="spacingAndGlyphs">−0.55</text>
<text x="175.57" y="291.99" font-size="5.61" text-anchor="middle" fill="#262626" stroke="#262626" stroke-width="0.15" textLength="15.63" lengthAdjust="spacingAndGlyphs">−0.48</text>
<text x="193.00" y="291.99" font-size="5.61" text-anchor="middle" fill="#ffffff" stroke="#ffffff" stroke-width="0.15" textLength="15.63" lengthAdjust="spacingAndGlyphs">−0.28</text>
<text x="210.44" y="291.99" font-size="5.61" text-anchor="middle" fill="#ffffff" stroke="#ffffff" stroke-width="0.15" textLength="15.63" lengthAdjust="spacingAndGlyphs">−0.05</text>
<text x="227.87" y="291.99" font-size="5.61" text-anchor="middle" fill="#ffffff" stroke="#ffffff" stroke-width="0.15" textLength="15.63" lengthAdjust="spacingAndGlyphs">−0.41</text>
<text x="245.30" y="291.99" font-size="5.61" text-anchor="middle" fill="#ffffff" stroke="#ffffff" stroke-width="0.15" textLength="11.36" lengthAdjust="spacingAndGlyphs">0.88</text>
<text x="262.73" y="291.99" font-size="5.61" text-anchor="middle" fill="#ffffff" stroke="#ffffff" stroke-width="0.15" textLength="15.63" lengthAdjust="spacingAndGlyphs">−0.03</text>
<text x="280.15" y="291.99" font-size="5.61" text-anchor="middle" fill="#ffffff" stroke="#ffffff" stroke-width="0.15" textLength="11.36" lengthAdjust="spacingAndGlyphs">0.65</text>
<text x="297.59" y="291.99" font-size="5.61" text-anchor="middle" fill="#ffffff" stroke="#ffffff" stroke-width="0.15" textLength="15.63" lengthAdjust="spacingAndGlyphs">−0.44</text>
<text x="315.01" y="291.99" font-size="5.61" text-anchor="middle" fill="#ffffff" stroke="#ffffff" stroke-width="0.15" textLength="11.36" lengthAdjust="spacingAndGlyphs">0.47</text>
<text x="332.44" y="291.99" font-size="5.61" text-anchor="middle" fill="#ffffff" stroke="#ffffff" stroke-width="0.15" textLength="11.36" lengthAdjust="spacingAndGlyphs">0.05</text>
<text x="349.88" y="291.99" font-size="5.61" text-anchor="middle" fill="#ffffff" stroke="#ffffff" stroke-width="0.15" textLength="11.36" lengthAdjust="spacingAndGlyphs">0.48</text>
<text x="367.31" y="291.99" font-size="5.61" text-anchor="middle" fill="#ffffff" stroke="#ffffff" stroke-width="0.15" textLength="15.63" lengthAdjust="spacingAndGlyphs">−0.30</text>
<text x="384.74" y="291.99" font-size="5.61" text-anchor="middle" fill="#ffffff" stroke="#ffffff" stroke-width="0.15" textLength="11.36" lengthAdjust="spacingAndGlyphs">0.46</text>
<text x="402.17" y="291.99" font-size="5.61" text-anchor="middle" fill="#ffffff" stroke="#ffffff" stroke-width="0.15" textLength="15.63" lengthAdjust="spacingAndGlyphs">−0.21</text>
<text x="140.72" y="309.95" font-size="5.61" text-anchor="middle" fill="#ffffff" stroke="#ffffff" stroke-width="0.15" textLength="11.36" lengthAdjust="spacingAndGlyphs">0.34</text>
<text x="158.15" y="309.95" font-size="5.61" text-anchor="middle" fill="#ffffff" stroke="#ffffff" stroke-width="0.15" textLength="15.63" lengthAdjust="spacingAndGlyphs">−0.11</text>
<text x="175.57" y="309.95" font-size="5.61" text-anchor="middle" fill="#ffffff" stroke="#ffffff" stroke-width="0.15" textLength="11.36" lengthAdjust="spacingAndGlyphs">0.14</text>
<text x="193.00" y="309.95" font-size="5.61" text-anchor="middle" fill="#ffffff" stroke="#ffffff" stroke-width="0.15" textLength="15.63" lengthAdjust="spacingAndGlyphs">−0.05</text>
<text x="210.44" y="309.95" font-size="5.61" text-anchor="middle" fill="#ffffff" stroke="#ffffff" stroke-width="0.15" textLength="15.63" lengthAdjust="spacingAndGlyphs">−0.10</text>
<text x="227.87" y="309.95" font-size="5.61" text-anchor="middle" fill="#ffffff" stroke="#ffffff" stroke-width="0.15" textLength="15.63" lengthAdjust="spacingAndGlyphs">−0.01</text>
<text x="245.30" y="309.95" font-size="5.61" text-anchor="middle" fill="#ffffff" stroke="#ffffff" stroke-width="0.15" textLength="11.36" lengthAdjust="spacingAndGlyphs">0.19</text>
<text x="262.73" y="309.95" font-size="5.61" text-anchor="middle" fill="#ffffff" stroke="#ffffff" stroke-width="0.15" textLength="11.36" lengthAdjust="spacingAndGlyphs">0.04</text>
<text x="280.15" y="309.95" font-size="5.61" text-anchor="middle" fill="#ffffff" stroke="#ffffff" stroke-width="0.15" textLength="11.36" lengthAdjust="spacingAndGlyphs">0.02</text>
<text x="297.59" y="309.95" font-size="5.61" text-anchor="middle" fill="#ffffff" stroke="#ffffff" stroke-width="0.15" textLength="11.36" lengthAdjust="spacingAndGlyphs">0.47</text>
<text x="315.01" y="309.95" font-size="5.61" text-anchor="middle" fill="#ffffff" stroke="#ffffff" stroke-width="0.15" textLength="15.63" lengthAdjust="spacingAndGlyphs">−0.05</text>
<text x="332.44" y="309.95" font-size="5.61" text-anchor="middle" fill="#ffffff" stroke="#ffffff" stroke-width="0.15" textLength="15.63" lengthAdjust="spacingAndGlyphs">−0.09</text>
<text x="349.88" y="309.95" font-size="5.61" text-anchor="middle" fill="#ffffff" stroke="#ffffff" stroke-width="0.15" textLength="15.63" lengthAdjust="spacingAndGlyphs">−0.04</text>
<text x="367.31" y="309.95" font-size="5.61" text-anchor="middle" fill="#ffffff" stroke="#ffffff" stroke-width="0.15" textLength="15.63" lengthAdjust="spacingAndGlyphs">−0.00</text>
<text x="384.74" y="309.95" font-size="5.61" text-anchor="middle" fill="#ffffff" stroke="#ffffff" stroke-width="0.15" textLength="15.63" lengthAdjust="spacingAndGlyphs">−0.07</text>
<text x="402.17" y="309.95" font-size="5.61" text-anchor="middle" fill="#ffffff" stroke="#ffffff" stroke-width="0.15" textLength="15.63" lengthAdjust="spacingAndGlyphs">−0.13</text>
<text x="419.59" y="309.95" font-size="5.61" text-anchor="middle" fill="#ffffff" stroke="#ffffff" stroke-width="0.15" textLength="15.63" lengthAdjust="spacingAndGlyphs">−0.03</text>
<text x="140.72" y="327.91" font-size="5.61" text-anchor="middle" fill="#ffffff" stroke="#ffffff" stroke-width="0.15" textLength="15.63" lengthAdjust="spacingAndGlyphs">−0.11</text>
<text x="158.15" y="327.91" font-size="5.61" text-anchor="middle" fill="#ffffff" stroke="#ffffff" stroke-width="0.15" textLength="15.63" lengthAdjust="spacingAndGlyphs">−0.08</text>
<text x="175.57" y="327.91" font-size="5.61" text-anchor="middle" fill="#ffffff" stroke="#ffffff" stroke-width="0.15" textLength="11.36" lengthAdjust="spacingAndGlyphs">0.66</text>
<text x="193.00" y="327.91" font-size="5.61" text-anchor="middle" fill="#ffffff" stroke="#ffffff" stroke-width="0.15" textLength="11.36" lengthAdjust="spacingAndGlyphs">0.90</text>
<text x="210.44" y="327.91" font-size="5.61" text-anchor="middle" fill="#ffffff" stroke="#ffffff" stroke-width="0.15" textLength="11.36" lengthAdjust="spacingAndGlyphs">0.91</text>
<text x="227.87" y="327.91" font-size="5.61" text-anchor="middle" fill="#ffffff" stroke="#ffffff" stroke-width="0.15" textLength="11.36" lengthAdjust="spacingAndGlyphs">0.82</text>
<text x="245.30" y="327.91" font-size="5.61" text-anchor="middle" fill="#ffffff" stroke="#ffffff" stroke-width="0.15" textLength="11.36" lengthAdjust="spacingAndGlyphs">0.10</text>
<text x="262.73" y="327.91" font-size="5.61" text-anchor="middle" fill="#262626" stroke="#262626" stroke-width="0.15" textLength="15.63" lengthAdjust="spacingAndGlyphs">−0.93</text>
<text x="280.15" y="327.91" font-size="5.61" text-anchor="middle" fill="#ffffff" stroke="#ffffff" stroke-width="0.15" textLength="11.36" lengthAdjust="spacingAndGlyphs">0.07</text>
<text x="297.59" y="327.91" font-size="5.61" text-anchor="middle" fill="#ffffff" stroke="#ffffff" stroke-width="0.15" textLength="15.63" lengthAdjust="spacingAndGlyphs">−0.10</text>
<text x="315.01" y="327.91" font-size="5.61" text-anchor="middle" fill="#262626" stroke="#262626" stroke-width="0.15" textLength="15.63" lengthAdjust="spacingAndGlyphs">−0.69</text>
<text x="332.44" y="327.91" font-size="5.61" text-anchor="middle" fill="#ffffff" stroke="#ffffff" stroke-width="0.15" textLength="11.36" lengthAdjust="spacingAndGlyphs">0.93</text>
<text x="349.88" y="327.91" font-size="5.61" text-anchor="middle" fill="#262626" stroke="#262626" stroke-width="0.15" textLength="15.63" lengthAdjust="spacingAndGlyphs">−0.68</text>
<text x="367.31" y="327.91" font-size="5.61" text-anchor="middle" fill="#ffffff" stroke="#ffffff" stroke-width="0.15" textLength="11.36" lengthAdjust="spacingAndGlyphs">0.84</text>
<text x="384.74" y="327.91" font-size="5.61" text-anchor="middle" fill="#262626" stroke="#262626" stroke-width="0.15" textLength="15.63" lengthAdjust="spacingAndGlyphs">−0.72</text>
<text x="402.17" y="327.91" font-size="5.61" text-anchor="middle" fill="#ffffff" stroke="#ffffff" stroke-width="0.15" textLength="15.63" lengthAdjust="spacingAndGlyphs">−0.01</text>
<text x="419.59" y="327.91" font-size="5.61" text-anchor="middle" fill="#ffffff" stroke="#ffffff" stroke-width="0.15" textLength="11.36" lengthAdjust="spacingAndGlyphs">0.13</text>
<text x="437.02" y="327.91" font-size="5.61" text-anchor="middle" fill="#ffffff" stroke="#ffffff" stroke-width="0.15" textLength="15.63" lengthAdjust="spacingAndGlyphs">−0.02</text>
<text x="140.72" y="345.87" font-size="5.61" text-anchor="middle" fill="#ffffff" stroke="#ffffff" stroke-width="0.15" textLength="15.63" lengthAdjust="spacingAndGlyphs">−0.04</text>
<text x="158.15" y="345.87" font-size="5.61" text-anchor="middle" fill="#ffffff" stroke="#ffffff" stroke-width="0.15" textLength="11.36" lengthAdjust="spacingAndGlyphs">0.02</text>
<text x="175.57" y="345.87" font-size="5.61" text-anchor="middle" fill="#ffffff" stroke="#ffffff" stroke-width="0.15" textLength="11.36" lengthAdjust="spacingAndGlyphs">0.76</text>
<text x="193.00" y="345.87" font-size="5.61" text-anchor="middle" fill="#ffffff" stroke="#ffffff" stroke-width="0.15" textLength="11.36" lengthAdjust="spacingAndGlyphs">0.96</text>
<text x="210.44" y="345.87" font-size="5.61" text-anchor="middle" fill="#ffffff" stroke="#ffffff" stroke-width="0.15" textLength="11.36" lengthAdjust="spacingAndGlyphs">0.93</text>
<text x="227.87" y="345.87" font-size="5.61" text-anchor="middle" fill="#ffffff" stroke="#ffffff" stroke-width="0.15" textLength="11.36" lengthAdjust="spacingAndGlyphs">0.90</text>
<text x="245.30" y="345.87" font-size="5.61" text-anchor="middle" fill="#ffffff" stroke="#ffffff" stroke-width="0.15" textLength="15.63" lengthAdjust="spacingAndGlyphs">−0.06</text>
<text x="262.73" y="345.87" font-size="5.61" text-anchor="middle" fill="#262626" stroke="#262626" stroke-width="0.15" textLength="15.63" lengthAdjust="spacingAndGlyphs">−0.94</text>
<text x="280.15" y="345.87" font-size="5.61" text-anchor="middle" fill="#ffffff" stroke="#ffffff" stroke-width="0.15" textLength="15.63" lengthAdjust="spacingAndGlyphs">−0.06</text>
<text x="297.59" y="345.87" font-size="5.61" text-anchor="middle" fill="#ffffff" stroke="#ffffff" stroke-width="0.15" textLength="15.63" lengthAdjust="spacingAndGlyphs">−0.03</text>
<text x="315.01" y="345.87" font-size="5.61" text-anchor="middle" fill="#262626" stroke="#262626" stroke-width="0.15" textLength="15.63" lengthAdjust="spacingAndGlyphs">−0.78</text>
<text x="332.44" y="345.87" font-size="5.61" text-anchor="middle" fill="#ffffff" stroke="#ffffff" stroke-width="0.15" textLength="11.36" lengthAdjust="spacingAndGlyphs">0.93</text>
<text x="349.88" y="345.87" font-size="5.61" text-anchor="middle" fill="#262626" stroke="#262626" stroke-width="0.15" textLength="15.63" lengthAdjust="spacingAndGlyphs">−0.78</text>
<text x="367.31" y="345.87" font-size="5.61" text-anchor="middle" fill="#ffffff" stroke="#ffffff" stroke-width="0.15" textLength="11.36" lengthAdjust="spacingAndGlyphs">0.91</text>
<text x="384.74" y="345.87" font-size="5.61" text-anchor="middle" fill="#262626" stroke="#262626" stroke-width="0.15" textLength="15.63" lengthAdjust="spacingAndGlyphs">−0.81</text>
<text x="402.17" y="345.87" font-size="5.61" text-anchor="middle" fill="#ffffff" stroke="#ffffff" stroke-width="0.15" textLength="11.36" lengthAdjust="spacingAndGlyphs">0.02</text>
<text x="419.59" y="345.87" font-size="5.61" text-anchor="middle" fill="#ffffff" stroke="#ffffff" stroke-width="0.15" textLength="15.63" lengthAdjust="spacingAndGlyphs">−0.05</text>
<text x="437.02" y="345.87" font-size="5.61" text-anchor="middle" fill="#ffffff" stroke="#ffffff" stroke-width="0.15" textLength="15.63" lengthAdjust="spacingAndGlyphs">−0.02</text>
<text x="454.45" y="345.87" font-size="5.61" text-anchor="middle" fill="#ffffff" stroke="#ffffff" stroke-width="0.15" textLength="11.36" lengthAdjust="spacingAndGlyphs">0.98</text>
<text x="140.72" y="363.83" font-size="5.61" text-anchor="middle" fill="#ffffff" stroke="#ffffff" stroke-width="0.15" textLength="15.63" lengthAdjust="spacingAndGlyphs">−0.14</text>
<text x="158.15" y="363.83" font-size="5.61" text-anchor="middle" fill="#ffffff" stroke="#ffffff" stroke-width="0.15" textLength="15.63" lengthAdjust="spacingAndGlyphs">−0.11</text>
<text x="175.57" y="363.83" font-size="5.61" text-anchor="middle" fill="#ffffff" stroke="#ffffff" stroke-width="0.15" textLength="11.36" lengthAdjust="spacingAndGlyphs">0.62</text>
<text x="193.00" y="363.83" font-size="5.61" text-anchor="middle" fill="#ffffff" stroke="#ffffff" stroke-width="0.15" textLength="11.36" lengthAdjust="spacingAndGlyphs">0.87</text>
<text x="210.44" y="363.83" font-size="5.61" text-anchor="middle" fill="#ffffff" stroke="#ffffff" stroke-width="0.15" textLength="11.36" lengthAdjust="spacingAndGlyphs">0.89</text>
<text x="227.87" y="363.83" font-size="5.61" text-anchor="middle" fill="#ffffff" stroke="#ffffff" stroke-width="0.15" textLength="11.36" lengthAdjust="spacingAndGlyphs">0.78</text>
<text x="245.30" y="363.83" font-size="5.61" text-anchor="middle" fill="#ffffff" stroke="#ffffff" stroke-width="0.15" textLength="11.36" lengthAdjust="spacingAndGlyphs">0.17</text>
<text x="262.73" y="363.83" font-size="5.61" text-anchor="middle" fill="#262626" stroke="#262626" stroke-width="0.15" textLength="15.63" lengthAdjust="spacingAndGlyphs">−0.92</text>
<text x="280.15" y="363.83" font-size="5.61" text-anchor="middle" fill="#ffffff" stroke="#ffffff" stroke-width="0.15" textLength="11.36" lengthAdjust="spacingAndGlyphs">0.11</text>
<text x="297.59" y="363.83" font-size="5.61" text-anchor="middle" fill="#ffffff" stroke="#ffffff" stroke-width="0.15" textLength="15.63" lengthAdjust="spacingAndGlyphs">−0.14</text>
<text x="315.01" y="363.83" font-size="5.61" text-anchor="middle" fill="#262626" stroke="#262626" stroke-width="0.15" textLength="15.63" lengthAdjust="spacingAndGlyphs">−0.65</text>
<text x="332.44" y="363.83" font-size="5.61" text-anchor="middle" fill="#ffffff" stroke="#ffffff" stroke-width="0.15" textLength="11.36" lengthAdjust="spacingAndGlyphs">0.93</text>
<text x="349.88" y="363.83" font-size="5.61" text-anchor="middle" fill="#262626" stroke="#262626" stroke-width="0.15" textLength="15.63" lengthAdjust="spacingAndGlyphs">−0.64</text>
<text x="367.31" y="363.83" font-size="5.61" text-anchor="middle" fill="#ffffff" stroke="#ffffff" stroke-width="0.15" textLength="11.36" lengthAdjust="spacingAndGlyphs">0.81</text>
<text x="384.74" y="363.83" font-size="5.61" text-anchor="middle" fill="#262626" stroke="#262626" stroke-width="0.15" textLength="15.63" lengthAdjust="spacingAndGlyphs">−0.68</text>
<text x="402.17" y="363.83" font-size="5.61" text-anchor="middle" fill="#ffffff" stroke="#ffffff" stroke-width="0.15" textLength="15.63" lengthAdjust="spacingAndGlyphs">−0.02</text>
<text x="419.59" y="363.83" font-size="5.61" text-anchor="middle" fill="#ffffff" stroke="#ffffff" stroke-width="0.15" textLength="11.36" lengthAdjust="spacingAndGlyphs">0.20</text>
<text x="437.02" y="363.83" font-size="5.61" text-anchor="middle" fill="#ffffff" stroke="#ffffff" stroke-width="0.15" textLength="15.63" lengthAdjust="spacingAndGlyphs">−0.03</text>
<text x="454.45" y="363.83" font-size="5.61" text-anchor="middle" fill="#ffffff" stroke="#ffffff" stroke-width="0.15" textLength="11.36" lengthAdjust="spacingAndGlyphs">1.00</text>
<text x="471.88" y="363.83" font-size="5.61" text-anchor="middle" fill="#ffffff" stroke="#ffffff" stroke-width="0.15" textLength="11.36" lengthAdjust="spacingAndGlyphs">0.97</text>
<line x1="130.11" y1="21.18" x2="132.00" y2="21.18" stroke="#000" stroke-width="0.43"/>
<text x="127.72" y="23.01" font-size="5.69" text-anchor="end" fill="#262626" stroke="#262626" stroke-width="0.10" textLength="62.57" lengthAdjust="spacingAndGlyphs">Bottom plan side count</text>
<line x1="130.11" y1="39.14" x2="132.00" y2="39.14" stroke="#000" stroke-width="0.43"/>
<text x="127.72" y="40.97" font-size="5.69" text-anchor="end" fill="#262626" stroke="#262626" stroke-width="0.10" textLength="51.89" lengthAdjust="spacingAndGlyphs">Center of gravity_Z</text>
<line x1="130.11" y1="57.10" x2="132.00" y2="57.10" stroke="#000" stroke-width="0.43"/>
<text x="127.72" y="58.93" font-size="5.69" text-anchor="end" fill="#262626" stroke="#262626" stroke-width="0.10" textLength="51.61" lengthAdjust="spacingAndGlyphs">Diagrid degree Avg</text>
<line x1="130.11" y1="75.06" x2="132.00" y2="75.06" stroke="#000" stroke-width="0.43"/>
<text x="127.72" y="76.89" font-size="5.69" text-anchor="end" fill="#262626" stroke="#262626" stroke-width="0.10" textLength="68.19" lengthAdjust="spacingAndGlyphs">Diagrid degree at bottom</text>
<line x1="130.11" y1="93.02" x2="132.00" y2="93.02" stroke="#000" stroke-width="0.43"/>
<text x="127.72" y="94.85" font-size="5.69" text-anchor="end" fill="#262626" stroke="#262626" stroke-width="0.10" textLength="57.57" lengthAdjust="spacingAndGlyphs">Diagrid degree at top</text>
<line x1="130.11" y1="110.98" x2="132.00" y2="110.98" stroke="#000" stroke-width="0.43"/>
<text x="127.72" y="112.81" font-size="5.69" text-anchor="end" fill="#262626" stroke="#262626" stroke-width="0.10" textLength="69.59" lengthAdjust="spacingAndGlyphs">Displacement of top story</text>
<line x1="130.11" y1="128.94" x2="132.00" y2="128.94" stroke="#000" stroke-width="0.43"/>
<text x="127.72" y="130.77" font-size="5.69" text-anchor="end" fill="#262626" stroke="#262626" stroke-width="0.10" textLength="37.94" lengthAdjust="spacingAndGlyphs">Elastic energy</text>
<line x1="130.11" y1="146.90" x2="132.00" y2="146.90" stroke="#000" stroke-width="0.43"/>
<text x="127.72" y="148.73" font-size="5.69" text-anchor="end" fill="#262626" stroke="#262626" stroke-width="0.10" textLength="65.72" lengthAdjust="spacingAndGlyphs">Expected Design Weight</text>
<line x1="130.11" y1="164.86" x2="132.00" y2="164.86" stroke="#000" stroke-width="0.43"/>
<text x="127.72" y="166.69" font-size="5.69" text-anchor="end" fill="#262626" stroke="#262626" stroke-width="0.10" textLength="17.75" lengthAdjust="spacingAndGlyphs">Height</text>
<line x1="130.11" y1="182.82" x2="132.00" y2="182.82" stroke="#000" stroke-width="0.43"/>
<text x="127.72" y="184.65" font-size="5.69" text-anchor="end" fill="#262626" stroke="#262626" stroke-width="0.10" textLength="89.94" lengthAdjust="spacingAndGlyphs">MAX NORMAL FORCES ABSOLUTE</text>
<line x1="130.11" y1="200.78" x2="132.00" y2="200.78" stroke="#000" stroke-width="0.43"/>
<text x="127.72" y="202.61" font-size="5.69" text-anchor="end" fill="#262626" stroke="#262626" stroke-width="0.10" textLength="101.33" lengthAdjust="spacingAndGlyphs">MAX NORMAL FORCES COMPRESSION</text>
<line x1="130.11" y1="218.74" x2="132.00" y2="218.74" stroke="#000" stroke-width="0.43"/>
<text x="127.72" y="220.57" font-size="5.69" text-anchor="end" fill="#262626" stroke="#262626" stroke-width="0.10" textLength="85.64" lengthAdjust="spacingAndGlyphs">MAX NORMAL FORCES TENSION</text>
<line x1="130.11" y1="236.70" x2="132.00" y2="236.70" stroke="#000" stroke-width="0.43"/>
<text x="127.72" y="238.53" font-size="5.69" text-anchor="end" fill="#262626" stroke="#262626" stroke-width="0.10" textLength="77.15" lengthAdjust="spacingAndGlyphs">MAX Utilization Compression</text>
<line x1="130.11" y1="254.66" x2="132.00" y2="254.66" stroke="#000" stroke-width="0.43"/>
<text x="127.72" y="256.49" font-size="5.69" text-anchor="end" fill="#262626" stroke="#262626" stroke-width="0.10" textLength="62.36" lengthAdjust="spacingAndGlyphs">MAX Utilization Tension</text>
<line x1="130.11" y1="272.62" x2="132.00" y2="272.62" stroke="#000" stroke-width="0.43"/>
<text x="127.72" y="274.45" font-size="5.69" text-anchor="end" fill="#262626" stroke="#262626" stroke-width="0.10" textLength="51.93" lengthAdjust="spacingAndGlyphs">Top plan side count</text>
<line x1="130.11" y1="290.58" x2="132.00" y2="290.58" stroke="#000" stroke-width="0.43"/>
<text x="127.72" y="292.41" font-size="5.69" text-anchor="end" fill="#262626" stroke="#262626" stroke-width="0.10" textLength="47.16" lengthAdjust="spacingAndGlyphs">Total Façade Area</text>
<line x1="130.11" y1="308.54" x2="132.00" y2="308.54" stroke="#000" stroke-width="0.43"/>
<text x="127.72" y="310.37" font-size="5.69" text-anchor="end" fill="#262626" stroke="#262626" stroke-width="0.10" textLength="43.45" lengthAdjust="spacingAndGlyphs">Total Gross Area</text>
<line x1="130.11" y1="326.50" x2="132.00" y2="326.50" stroke="#000" stroke-width="0.43"/>
<text x="127.72" y="328.33" font-size="5.69" text-anchor="end" fill="#262626" stroke="#262626" stroke-width="0.10" textLength="27.77" lengthAdjust="spacingAndGlyphs">Total Mass</text>
<line x1="130.11" y1="344.46" x2="132.00" y2="344.46" stroke="#000" stroke-width="0.43"/>
<text x="127.72" y="346.29" font-size="5.69" text-anchor="end" fill="#262626" stroke="#262626" stroke-width="0.10" textLength="65.79" lengthAdjust="spacingAndGlyphs">Total amount of Diagrids</text>
<line x1="130.11" y1="362.42" x2="132.00" y2="362.42" stroke="#000" stroke-width="0.43"/>
<text x="127.72" y="364.25" font-size="5.69" text-anchor="end" fill="#262626" stroke="#262626" stroke-width="0.10" textLength="86.32" lengthAdjust="spacingAndGlyphs">total length of Diagrid members</text>
<line x1="140.72" y1="371.40" x2="140.72" y2="373.29" stroke="#000" stroke-width="0.43"/>
<text x="139.93" y="378.97" font-size="5.69" text-anchor="end" fill="#262626" stroke="#262626" stroke-width="0.10" textLength="33.74" lengthAdjust="spacingAndGlyphs" transform="rotate(-45 139.93 378.97)">Aspect Ratio</text>
<line x1="158.15" y1="371.40" x2="158.15" y2="373.29" stroke="#000" stroke-width="0.43"/>
<text x="157.36" y="378.97" font-size="5.69" text-anchor="end" fill="#262626" stroke="#262626" stroke-width="0.10" textLength="62.57" lengthAdjust="spacingAndGlyphs" transform="rotate(-45 157.36 378.97)">Bottom plan side count</text>
<line x1="175.57" y1="371.40" x2="175.57" y2="373.29" stroke="#000" stroke-width="0.43"/>
<text x="174.68" y="378.97" font-size="5.69" text-anchor="end" fill="#262626" stroke="#262626" stroke-width="0.10" textLength="51.89" lengthAdjust="spacingAndGlyphs" transform="rotate(-45 174.68 378.97)">Center of gravity_Z</text>
<line x1="193.00" y1="371.40" x2="193.00" y2="373.29" stroke="#000" stroke-width="0.43"/>
<text x="192.22" y="378.97" font-size="5.69" text-anchor="end" fill="#262626" stroke="#262626" stroke-width="0.10" textLength="51.61" lengthAdjust="spacingAndGlyphs" transform="rotate(-45 192.22 378.97)">Diagrid degree Avg</text>
<line x1="210.44" y1="371.40" x2="210.44" y2="373.29" stroke="#000" stroke-width="0.43"/>
<text x="209.65" y="378.97" font-size="5.69" text-anchor="end" fill="#262626" stroke="#262626" stroke-width="0.10" textLength="68.19" lengthAdjust="spacingAndGlyphs" transform="rotate(-45 209.65 378.97)">Diagrid degree at bottom</text>
<line x1="227.87" y1="371.40" x2="227.87" y2="373.29" stroke="#000" stroke-width="0.43"/>
<text x="227.08" y="378.97" font-size="5.69" text-anchor="end" fill="#262626" stroke="#262626" stroke-width="0.10" textLength="57.57" lengthAdjust="spacingAndGlyphs" transform="rotate(-45 227.08 378.97)">Diagrid degree at top</text>
<line x1="245.30" y1="371.40" x2="245.30" y2="373.29" stroke="#000" stroke-width="0.43"/>
<text x="244.51" y="378.97" font-size="5.69" text-anchor="end" fill="#262626" stroke="#262626" stroke-width="0.10" textLength="69.59" lengthAdjust="spacingAndGlyphs" transform="rotate(-45 244.51 378.97)">Displacement of top story</text>
<line x1="262.73" y1="371.40" x2="262.73" y2="373.29" stroke="#000" stroke-width="0.43"/>
<text x="261.94" y="378.97" font-size="5.69" text-anchor="end" fill="#262626" stroke="#262626" stroke-width="0.10" textLength="37.94" lengthAdjust="spacingAndGlyphs" transform="rotate(-45 261.94 378.97)">Elastic energy</text>
<line x1="280.15" y1="371.40" x2="280.15" y2="373.29" stroke="#000" stroke-width="0.43"/>
<text x="279.37" y="378.97" font-size="5.69" text-anchor="end" fill="#262626" stroke="#262626" stroke-width="0.10" textLength="65.72" lengthAdjust="spacingAndGlyphs" transform="rotate(-45 279.37 378.97)">Expected Design Weight</text>
<line x1="297.59" y1="371.40" x2="297.59" y2="373.29" stroke="#000" stroke-width="0.43"/>
<text x="296.80" y="378.97" font-size="5.69" text-anchor="end" fill="#262626" stroke="#262626" stroke-width="0.10" textLength="17.75" lengthAdjust="spacingAndGlyphs" transform="rotate(-45 296.80 378.97)">Height</text>
<line x1="315.01" y1="371.40" x2="315.01" y2="373.29" stroke="#000" stroke-width="0.43"/>
<text x="314.23" y="378.97" font-size="5.69" text-anchor="end" fill="#262626" stroke="#262626" stroke-width="0.10" textLength="89.94" lengthAdjust="spacingAndGlyphs" transform="rotate(-45 314.23 378.97)">MAX NORMAL FORCES ABSOLUTE</text>
<line x1="332.44" y1="371.40" x2="332.44" y2="373.29" stroke="#000" stroke-width="0.43"/>
<text x="331.66" y="378.97" font-size="5.69" text-anchor="end" fill="#262626" stroke="#262626" stroke-width="0.10" textLength="101.33" lengthAdjust="spacingAndGlyphs" transform="rotate(-45 331.66 378.97)">MAX NORMAL FORCES COMPRESSION</text>
<line x1="349.88" y1="371.40" x2="349.88" y2="373.29" stroke="#000" stroke-width="0.43"/>
<text x="349.09" y="378.97" font-size="5.69" text-anchor="end" fill="#262626" stroke="#262626" stroke-width="0.10" textLength="85.64" lengthAdjust="spacingAndGlyphs" transform="rotate(-45 349.09 378.97)">MAX NORMAL FORCES TENSION</text>
<line x1="367.31" y1="371.40" x2="367.31" y2="373.29" stroke="#000" stroke-width="0.43"/>
<text x="366.52" y="378.97" font-size="5.69" text-anchor="end" fill="#262626" stroke="#262626" stroke-width="0.10" textLength="77.15" lengthAdjust="spacingAndGlyphs" transform="rotate(-45 366.52 378.97)">MAX Utilization Compression</text>
<line x1="384.74" y1="371.40" x2="384.74" y2="373.29" stroke="#000" stroke-width="0.43"/>
<text x="383.95" y="378.97" font-size="5.69" text-anchor="end" fill="#262626" stroke="#262626" stroke-width="0.10" textLength="62.36" lengthAdjust="spacingAndGlyphs" transform="rotate(-45 383.95 378.97)">MAX Utilization Tension</text>
<line x1="402.17" y1="371.40" x2="402.17" y2="373.29" stroke="#000" stroke-width="0.43"/>
<text x="401.38" y="378.97" font-size="5.69" text-anchor="end" fill="#262626" stroke="#262626" stroke-width="0.10" textLength="51.93" lengthAdjust="spacingAndGlyphs" transform="rotate(-45 401.38 378.97)">Top plan side count</text>
<line x1="419.59" y1="371.40" x2="419.59" y2="373.29" stroke="#000" stroke-width="0.43"/>
<text x="418.81" y="378.97" font-size="5.69" text-anchor="end" fill="#262626" stroke="#262626" stroke-width="0.10" textLength="47.16" lengthAdjust="spacingAndGlyphs" transform="rotate(-45 418.81 378.97)">Total Façade Area</text>
<line x1="437.02" y1="371.40" x2="437.02" y2="373.29" stroke="#000" stroke-width="0.43"/>
<text x="436.24" y="378.97" font-size="5.69" text-anchor="end" fill="#262626" stroke="#262626" stroke-width="0.10" textLength="43.45" lengthAdjust="spacingAndGlyphs" transform="rotate(-45 436.24 378.97)">Total Gross Area</text>
<line x1="454.45" y1="371.40" x2="454.45" y2="373.29" stroke="#000" stroke-width="0.43"/>
<text x="453.67" y="378.97" font-size="5.69" text-anchor="end" fill="#262626" stroke="#262626" stroke-width="0.10" textLength="27.77" lengthAdjust="spacingAndGlyphs" transform="rotate(-45 453.67 378.97)">Total Mass</text>
<line x1="471.88" y1="371.40" x2="471.88" y2="373.29" stroke="#000" stroke-width="0.43"/>
<text x="471.10" y="378.97" font-size="5.69" text-anchor="end" fill="#262626" stroke="#262626" stroke-width="0.10" textLength="65.79" lengthAdjust="spacingAndGlyphs" transform="rotate(-45 471.10 378.97)">Total amount of Diagrids</text>
<text x="306.30" y="8.90" font-size="6.79" text-anchor="middle" fill="#262626" stroke="#262626" stroke-width="0.10" textLength="106.46" lengthAdjust="spacingAndGlyphs">Numerical correlation (Real data)</text>
<defs><linearGradient id="g12" x1="0" y1="0" x2="0" y2="1"><stop offset="0.0000" stop-color="#000004"/><stop offset="0.0156" stop-color="#000009"/><stop offset="0.0312" stop-color="#020113"/><stop offset="0.0469" stop-color="#04021e"/><stop offset="0.0625" stop-color="#080428"/><stop offset="0.0781" stop-color="#0d0534"/><stop offset="0.0938" stop-color="#13063f"/><stop offset="0.1094" stop-color="#1a064b"/><stop offset="0.1250" stop-color="#220556"/><stop offset="0.1406" stop-color="#2c0361"/><stop offset="0.1562" stop-color="#36006b"/><stop offset="0.1719" stop-color="#420072"/><stop offset="0.1875" stop-color="#4c0078"/><stop offset="0.2031" stop-color="#55007c"/><stop offset="0.2188" stop-color="#5d007f"/><stop offset="0.2344" stop-color="#650182"/><stop offset="0.2500" stop-color="#6d0483"/><stop offset="0.2656" stop-color="#760784"/><stop offset="0.2812" stop-color="#7e0a84"/><stop offset="0.2969" stop-color="#850d83"/><stop offset="0.3125" stop-color="#85107a"/><stop offset="0.3281" stop-color="#8d1278"/><stop offset="0.3438" stop-color="#941476"/><stop offset="0.3594" stop-color="#9c1773"/><stop offset="0.3750" stop-color="#a4196f"/><stop offset="0.3906" stop-color="#ab1b6d"/><stop offset="0.4062" stop-color="#b31d6c"/><stop offset="0.4219" stop-color="#ba1f6b"/><stop offset="0.4375" stop-color="#c22167"/><stop offset="0.4531" stop-color="#c92463"/><stop offset="0.4688" stop-color="#d1265d"/><stop offset="0.4844" stop-color="#d82958"/><stop offset="0.5000" stop-color="#df2d52"/><stop offset="0.5156" stop-color="#e6304c"/><stop offset="0.5312" stop-color="#ed3546"/><stop offset="0.5469" stop-color="#f43a40"/><stop offset="0.5625" stop-color="#fa443f"/><stop offset="0.5781" stop-color="#ff4736"/><stop offset="0.5938" stop-color="#ff4b2e"/><stop offset="0.6094" stop-color="#ff5026"/><stop offset="0.6250" stop-color="#ff551f"/><stop offset="0.6406" stop-color="#ff5a18"/><stop offset="0.6562" stop-color="#ff6011"/><stop offset="0.6719" stop-color="#ff660a"/><stop offset="0.6875" stop-color="#ff6c04"/><stop offset="0.7031" stop-color="#ff7400"/><stop offset="0.7188" stop-color="#ff7e00"/><stop offset="0.7344" stop-color="#ff8800"/><stop offset="0.7500" stop-color="#ff9200"/><stop offset="0.7656" stop-color="#ff9a00"/><stop offset="0.7812" stop-color="#ffa100"/><stop offset="0.7969" stop-color="#ffa700"/><stop offset="0.8125" stop-color="#ffac00"/><stop offset="0.8281" stop-color="#ffb200"/><stop offset="0.8438" stop-color="#ffb802"/><stop offset="0.8594" stop-color="#ffc10d"/><stop offset="0.8750" stop-color="#ffcb19"/><stop offset="0.8906" stop-color="#ffd526"/><stop offset="0.9062" stop-color="#ffdf34"/><stop offset="0.9219" stop-color="#ffea48"/><stop offset="0.9375" stop-color="#fff45e"/><stop offset="0.9531" stop-color="#fffc75"/><stop offset="0.9688" stop-color="#fdff88"/><stop offset="0.9844" stop-color="#fbff99"/><stop offset="1.0000" stop-color="#fcffa5"/></linearGradient></defs>
<rect x="502.50" y="12.20" width="18.00" height="359.20" fill="url(#g12)"/>
<line x1="520.50" y1="336.05" x2="522.39" y2="336.05" stroke="#000" stroke-width="0.43"/>
<text x="524.28" y="337.46" font-size="5.41" text-anchor="start" fill="#262626" stroke="#262626" stroke-width="0.10" textLength="15.63" lengthAdjust="spacingAndGlyphs">−0.75</text>
<line x1="520.50" y1="289.79" x2="522.39" y2="289.79" stroke="#000" stroke-width="0.43"/>
<text x="524.28" y="291.20" font-size="5.41" text-anchor="start" fill="#262626" stroke="#262626" stroke-width="0.10" textLength="15.63" lengthAdjust="spacingAndGlyphs">−0.50</text>
<line x1="520.50" y1="243.52" x2="522.39" y2="243.52" stroke="#000" stroke-width="0.43"/>
<text x="524.28" y="244.93" font-size="5.41" text-anchor="start" fill="#262626" stroke="#262626" stroke-width="0.10" textLength="15.63" lengthAdjust="spacingAndGlyphs">−0.25</text>
<line x1="520.50" y1="197.26" x2="522.39" y2="197.26" stroke="#000" stroke-width="0.43"/>
<text x="524.28" y="198.67" font-size="5.41" text-anchor="start" fill="#262626" stroke="#262626" stroke-width="0.10" textLength="11.36" lengthAdjust="spacingAndGlyphs">0.00</text>
<line x1="520.50" y1="150.99" x2="522.39" y2="150.99" stroke="#000" stroke-width="0.43"/>
<text x="524.28" y="152.40" font-size="5.41" text-anchor="start" fill="#262626" stroke="#262626" stroke-width="0.10" textLength="11.36" lengthAdjust="spacingAndGlyphs">0.25</text>
<line x1="520.50" y1="104.73" x2="522.39" y2="104.73" stroke="#000" stroke-width="0.43"/>
<text x="524.28" y="106.14" font-size="5.41" text-anchor="start" fill="#262626" stroke="#262626" stroke-width="0.10" textLength="11.36" lengthAdjust="spacingAndGlyphs">0.50</text>
<line x1="520.50" y1="58.46" x2="522.39" y2="58.46" stroke="#000" stroke-width="0.43"/>
<text x="524.28" y="59.87" font-size="5.41" text-anchor="start" fill="#262626" stroke="#262626" stroke-width="0.10" textLength="11.36" lengthAdjust="spacingAndGlyphs">0.75</text>
<rect x="115.50" y="506.90" width="18.32" height="19.95" fill="#c42266"/>
<rect x="115.50" y="525.85" width="19.32" height="19.95" fill="#9a1673"/>
<rect x="133.81" y="525.85" width="18.32" height="19.95" fill="#840f7e"/>
<rect x="115.50" y="544.80" width="19.32" height="19.95" fill="#c92463"/>
<rect x="133.81" y="544.80" width="19.32" height="19.95" fill="#b91e6b"/>
<rect x="152.13" y="544.80" width="18.32" height="19.95" fill="#180648"/>
<rect x="115.50" y="563.75" width="19.32" height="19.95" fill="#f03743"/>
<rect x="133.81" y="563.75" width="19.32" height="19.95" fill="#ea3249"/>
<rect x="152.13" y="563.75" width="19.32" height="19.95" fill="#610081"/>
<rect x="170.44" y="563.75" width="18.32" height="19.95" fill="#020116"/>
<rect x="115.50" y="582.70" width="19.32" height="19.95" fill="#ab1b6d"/>
<rect x="133.81" y="582.70" width="19.32" height="19.95" fill="#9a1673"/>
<rect x="152.13" y="582.70" width="19.32" height="19.95" fill="#080428"/>
<rect x="170.44" y="582.70" width="19.32" height="19.95" fill="#000009"/>
<rect x="188.76" y="582.70" width="18.32" height="19.95" fill="#160645"/>
<rect x="115.50" y="601.65" width="19.32" height="19.95" fill="#ff660a"/>
<rect x="133.81" y="601.65" width="19.32" height="19.95" fill="#ffb400"/>
<rect x="152.13" y="601.65" width="19.32" height="19.95" fill="#ff8d00"/>
<rect x="170.44" y="601.65" width="19.32" height="19.95" fill="#ff6011"/>
<rect x="188.76" y="601.65" width="19.32" height="19.95" fill="#eb3348"/>
<rect x="207.07" y="601.65" width="18.32" height="19.95" fill="#ff8b00"/>
<rect x="115.50" y="620.60" width="19.32" height="19.95" fill="#eb3348"/>
<rect x="133.81" y="620.60" width="19.32" height="19.95" fill="#f03743"/>
<rect x="152.13" y="620.60" width="19.32" height="19.95" fill="#ffd01f"/>
<rect x="170.44" y="620.60" width="19.32" height="19.95" fill="#fcffa2"/>
<rect x="188.76" y="620.60" width="19.32" height="19.95" fill="#fdff88"/>
<rect x="207.07" y="620.60" width="19.32" height="19.95" fill="#fdff88"/>
<rect x="225.39" y="620.60" width="18.32" height="19.95" fill="#d62959"/>
<rect x="115.50" y="639.55" width="19.32" height="19.95" fill="#ff7900"/>
<rect x="133.81" y="639.55" width="19.32" height="19.95" fill="#ff5026"/>
<rect x="152.13" y="639.55" width="19.32" height="19.95" fill="#ff6b05"/>
<rect x="170.44" y="639.55" width="19.32" height="19.95" fill="#ff4e2a"/>
<rect x="188.76" y="639.55" width="19.32" height="19.95" fill="#de2c53"/>
<rect x="207.07" y="639.55" width="19.32" height="19.95" fill="#ff640c"/>
<rect x="225.39" y="639.55" width="19.32" height="19.95" fill="#420072"/>
<rect x="243.71" y="639.55" width="18.32" height="19.95" fill="#e12d50"/>
<rect x="115.50" y="658.50" width="19.32" height="19.95" fill="#a01871"/>
<rect x="133.81" y="658.50" width="19.32" height="19.95" fill="#b51d6c"/>
<rect x="152.13" y="658.50" width="19.32" height="19.95" fill="#a01871"/>
<rect x="170.44" y="658.50" width="19.32" height="19.95" fill="#ea3249"/>
<rect x="188.76" y="658.50" width="19.32" height="19.95" fill="#fc453d"/>
<rect x="207.07" y="658.50" width="19.32" height="19.95" fill="#de2c53"/>
<rect x="225.39" y="658.50" width="19.32" height="19.95" fill="#f53b3f"/>
<rect x="243.71" y="658.50" width="19.32" height="19.95" fill="#c62265"/>
<rect x="262.02" y="658.50" width="18.32" height="19.95" fill="#f73d3d"/>
<rect x="115.50" y="677.45" width="19.32" height="19.95" fill="#ff8800"/>
<rect x="133.81" y="677.45" width="19.32" height="19.95" fill="#ff9200"/>
<rect x="152.13" y="677.45" width="19.32" height="19.95" fill="#fdff88"/>
<rect x="170.44" y="677.45" width="19.32" height="19.95" fill="#fdff88"/>
<rect x="188.76" y="677.45" width="19.32" height="19.95" fill="#ffc613"/>
<rect x="207.07" y="677.45" width="19.32" height="19.95" fill="#fcffa2"/>
<rect x="225.39" y="677.45" width="19.32" height="19.95" fill="#7a0884"/>
<rect x="243.71" y="677.45" width="19.32" height="19.95" fill="#1c064e"/>
<rect x="262.02" y="677.45" width="19.32" height="19.95" fill="#9a1673"/>
<rect x="280.34" y="677.45" width="18.32" height="19.95" fill="#fd463b"/>
<rect x="115.50" y="696.40" width="19.32" height="19.95" fill="#fc453d"/>
<rect x="133.81" y="696.40" width="19.32" height="19.95" fill="#bc1f6b"/>
<rect x="152.13" y="696.40" width="19.32" height="19.95" fill="#4a0077"/>
<rect x="170.44" y="696.40" width="19.32" height="19.95" fill="#050220"/>
<rect x="188.76" y="696.40" width="19.32" height="19.95" fill="#0a052e"/>
<rect x="207.07" y="696.40" width="19.32" height="19.95" fill="#11063c"/>
<rect x="225.39" y="696.40" width="19.32" height="19.95" fill="#eb3348"/>
<rect x="243.71" y="696.40" width="19.32" height="19.95" fill="#fcff9f"/>
<rect x="262.02" y="696.40" width="19.32" height="19.95" fill="#c92463"/>
<rect x="280.34" y="696.40" width="19.32" height="19.95" fill="#ff4d2c"/>
<rect x="298.65" y="696.40" width="18.32" height="19.95" fill="#ffdf34"/>
<rect x="115.50" y="715.35" width="19.32" height="19.95" fill="#ff8300"/>
<rect x="133.81" y="715.35" width="19.32" height="19.95" fill="#ff8d00"/>
<rect x="152.13" y="715.35" width="19.32" height="19.95" fill="#fdff88"/>
<rect x="170.44" y="715.35" width="19.32" height="19.95" fill="#fdff88"/>
<rect x="188.76" y="715.35" width="19.32" height="19.95" fill="#ffc613"/>
<rect x="207.07" y="715.35" width="19.32" height="19.95" fill="#fcffa5"/>
<rect x="225.39" y="715.35" width="19.32" height="19.95" fill="#7a0884"/>
<rect x="243.71" y="715.35" width="19.32" height="19.95" fill="#1c064e"/>
<rect x="262.02" y="715.35" width="19.32" height="19.95" fill="#961575"/>
<rect x="280.34" y="715.35" width="19.32" height="19.95" fill="#fd463b"/>
<rect x="298.65" y="715.35" width="19.32" height="19.95" fill="#000009"/>
<rect x="316.97" y="715.35" width="18.32" height="19.95" fill="#ffdf34"/>
<rect x="115.50" y="734.30" width="19.32" height="19.95" fill="#ab1b6d"/>
<rect x="133.81" y="734.30" width="19.32" height="19.95" fill="#ab1b6d"/>
<rect x="152.13" y="734.30" width="19.32" height="19.95" fill="#100639"/>
<rect x="170.44" y="734.30" width="19.32" height="19.95" fill="#020113"/>
<rect x="188.76" y="734.30" width="19.32" height="19.95" fill="#160645"/>
<rect x="207.07" y="734.30" width="19.32" height="19.95" fill="#01000c"/>
<rect x="225.39" y="734.30" width="19.32" height="19.95" fill="#ff6f00"/>
<rect x="243.71" y="734.30" width="19.32" height="19.95" fill="#fcff91"/>
<rect x="262.02" y="734.30" width="19.32" height="19.95" fill="#ff5f13"/>
<rect x="280.34" y="734.30" width="19.32" height="19.95" fill="#ea3249"/>
<rect x="298.65" y="734.30" width="19.32" height="19.95" fill="#fbff99"/>
<rect x="316.97" y="734.30" width="19.32" height="19.95" fill="#11063c"/>
<rect x="335.28" y="734.30" width="18.32" height="19.95" fill="#fbff99"/>
<rect x="115.50" y="753.25" width="19.32" height="19.95" fill="#ff8800"/>
<rect x="133.81" y="753.25" width="19.32" height="19.95" fill="#ff6f00"/>
<rect x="152.13" y="753.25" width="19.32" height="19.95" fill="#fdff88"/>
<rect x="170.44" y="753.25" width="19.32" height="19.95" fill="#fbff95"/>
<rect x="188.76" y="753.25" width="19.32" height="19.95" fill="#ffd01f"/>
<rect x="207.07" y="753.25" width="19.32" height="19.95" fill="#fcffa5"/>
<rect x="225.39" y="753.25" width="19.32" height="19.95" fill="#7a0884"/>
<rect x="243.71" y="753.25" width="19.32" height="19.95" fill="#160645"/>
<rect x="262.02" y="753.25" width="19.32" height="19.95" fill="#8f1378"/>
<rect x="280.34" y="753.25" width="19.32" height="19.95" fill="#fd463b"/>
<rect x="298.65" y="753.25" width="19.32" height="19.95" fill="#01000c"/>
<rect x="316.97" y="753.25" width="19.32" height="19.95" fill="#ffd729"/>
<rect x="335.28" y="753.25" width="19.32" height="19.95" fill="#01000c"/>
<rect x="353.60" y="753.25" width="18.32" height="19.95" fill="#fcffa2"/>
<rect x="115.50" y="772.20" width="19.32" height="19.95" fill="#f73d3d"/>
<rect x="133.81" y="772.20" width="19.32" height="19.95" fill="#e52f4d"/>
<rect x="152.13" y="772.20" width="19.32" height="19.95" fill="#f53b3f"/>
<rect x="170.44" y="772.20" width="19.32" height="19.95" fill="#da2a56"/>
<rect x="188.76" y="772.20" width="19.32" height="19.95" fill="#c42266"/>
<rect x="207.07" y="772.20" width="19.32" height="19.95" fill="#ea3249"/>
<rect x="225.39" y="772.20" width="19.32" height="19.95" fill="#e12d50"/>
<rect x="243.71" y="772.20" width="19.32" height="19.95" fill="#de2c53"/>
<rect x="262.02" y="772.20" width="19.32" height="19.95" fill="#d82958"/>
<rect x="280.34" y="772.20" width="19.32" height="19.95" fill="#af1c6c"/>
<rect x="298.65" y="772.20" width="19.32" height="19.95" fill="#de2c53"/>
<rect x="316.97" y="772.20" width="19.32" height="19.95" fill="#e6304c"/>
<rect x="335.28" y="772.20" width="19.32" height="19.95" fill="#da2a56"/>
<rect x="353.60" y="772.20" width="19.32" height="19.95" fill="#f53b3f"/>
<rect x="371.91" y="772.20" width="18.32" height="19.95" fill="#de2c53"/>
<rect x="115.50" y="791.15" width="19.32" height="19.95" fill="#ff8d00"/>
<rect x="133.81" y="791.15" width="19.32" height="19.95" fill="#ffab00"/>
<rect x="152.13" y="791.15" width="19.32" height="19.95" fill="#ff9200"/>
<rect x="170.44" y="791.15" width="19.32" height="19.95" fill="#ff6011"/>
<rect x="188.76" y="791.15" width="19.32" height="19.95" fill="#f53b3f"/>
<rect x="207.07" y="791.15" width="19.32" height="19.95" fill="#ff8300"/>
<rect x="225.39" y="791.15" width="19.32" height="19.95" fill="#200653"/>
<rect x="243.71" y="791.15" width="19.32" height="19.95" fill="#e12d50"/>
<rect x="262.02" y="791.15" width="19.32" height="19.95" fill="#55007c"/>
<rect x="280.34" y="791.15" width="19.32" height="19.95" fill="#ff7900"/>
<rect x="298.65" y="791.15" width="19.32" height="19.95" fill="#7c0984"/>
<rect x="316.97" y="791.15" width="19.32" height="19.95" fill="#e12d50"/>
<rect x="335.28" y="791.15" width="19.32" height="19.95" fill="#800b85"/>
<rect x="353.60" y="791.15" width="19.32" height="19.95" fill="#ff660a"/>
<rect x="371.91" y="791.15" width="19.32" height="19.95" fill="#7c0984"/>
<rect x="390.23" y="791.15" width="18.32" height="19.95" fill="#ff5026"/>
<rect x="115.50" y="810.10" width="19.32" height="19.95" fill="#a91a6d"/>
<rect x="133.81" y="810.10" width="19.32" height="19.95" fill="#ff551f"/>
<rect x="152.13" y="810.10" width="19.32" height="19.95" fill="#cb2461"/>
<rect x="170.44" y="810.10" width="19.32" height="19.95" fill="#eb3348"/>
<rect x="188.76" y="810.10" width="19.32" height="19.95" fill="#ed3546"/>
<rect x="207.07" y="810.10" width="19.32" height="19.95" fill="#ea3249"/>
<rect x="225.39" y="810.10" width="19.32" height="19.95" fill="#b91e6b"/>
<rect x="243.71" y="810.10" width="19.32" height="19.95" fill="#e6304c"/>
<rect x="262.02" y="810.10" width="19.32" height="19.95" fill="#e12d50"/>
<rect x="280.34" y="810.10" width="19.32" height="19.95" fill="#9a1673"/>
<rect x="298.65" y="810.10" width="19.32" height="19.95" fill="#ea3249"/>
<rect x="316.97" y="810.10" width="19.32" height="19.95" fill="#f9403e"/>
<rect x="335.28" y="810.10" width="19.32" height="19.95" fill="#ea3249"/>
<rect x="353.60" y="810.10" width="19.32" height="19.95" fill="#e52f4d"/>
<rect x="371.91" y="810.10" width="19.32" height="19.95" fill="#f23842"/>
<rect x="390.23" y="810.10" width="19.32" height="19.95" fill="#ff4d2c"/>
<rect x="408.54" y="810.10" width="18.32" height="19.95" fill="#df2d52"/>
<rect x="115.50" y="829.05" width="19.32" height="19.95" fill="#f53b3f"/>
<rect x="133.81" y="829.05" width="19.32" height="19.95" fill="#ed3546"/>
<rect x="152.13" y="829.05" width="19.32" height="19.95" fill="#4a0077"/>
<rect x="170.44" y="829.05" width="19.32" height="19.95" fill="#04021e"/>
<rect x="188.76" y="829.05" width="19.32" height="19.95" fill="#04021e"/>
<rect x="207.07" y="829.05" width="19.32" height="19.95" fill="#13063f"/>
<rect x="225.39" y="829.05" width="19.32" height="19.95" fill="#d3275c"/>
<rect x="243.71" y="829.05" width="19.32" height="19.95" fill="#fcffa2"/>
<rect x="262.02" y="829.05" width="19.32" height="19.95" fill="#cd2560"/>
<rect x="280.34" y="829.05" width="19.32" height="19.95" fill="#fd463b"/>
<rect x="298.65" y="829.05" width="19.32" height="19.95" fill="#ffcd1c"/>
<rect x="316.97" y="829.05" width="19.32" height="19.95" fill="#020113"/>
<rect x="335.28" y="829.05" width="19.32" height="19.95" fill="#ffd01f"/>
<rect x="353.60" y="829.05" width="19.32" height="19.95" fill="#100639"/>
<rect x="371.91" y="829.05" width="19.32" height="19.95" fill="#ffd526"/>
<rect x="390.23" y="829.05" width="19.32" height="19.95" fill="#da2a56"/>
<rect x="408.54" y="829.05" width="19.32" height="19.95" fill="#d3275c"/>
<rect x="426.86" y="829.05" width="18.32" height="19.95" fill="#e12d50"/>
<rect x="115.50" y="848.00" width="19.32" height="19.95" fill="#df2d52"/>
<rect x="133.81" y="848.00" width="19.32" height="19.95" fill="#da2a56"/>
<rect x="152.13" y="848.00" width="19.32" height="19.95" fill="#310266"/>
<rect x="170.44" y="848.00" width="19.32" height="19.95" fill="#01000c"/>
<rect x="188.76" y="848.00" width="19.32" height="19.95" fill="#020116"/>
<rect x="207.07" y="848.00" width="19.32" height="19.95" fill="#050220"/>
<rect x="225.39" y="848.00" width="19.32" height="19.95" fill="#f23842"/>
<rect x="243.71" y="848.00" width="19.32" height="19.95" fill="#fcffa5"/>
<rect x="262.02" y="848.00" width="19.32" height="19.95" fill="#e52f4d"/>
<rect x="280.34" y="848.00" width="19.32" height="19.95" fill="#f53b3f"/>
<rect x="298.65" y="848.00" width="19.32" height="19.95" fill="#ffea48"/>
<rect x="316.97" y="848.00" width="19.32" height="19.95" fill="#020116"/>
<rect x="335.28" y="848.00" width="19.32" height="19.95" fill="#ffec4e"/>
<rect x="353.60" y="848.00" width="19.32" height="19.95" fill="#070326"/>
<rect x="371.91" y="848.00" width="19.32" height="19.95" fill="#fff159"/>
<rect x="390.23" y="848.00" width="19.32" height="19.95" fill="#da2a56"/>
<rect x="408.54" y="848.00" width="19.32" height="19.95" fill="#f73d3d"/>
<rect x="426.86" y="848.00" width="19.32" height="19.95" fill="#e12d50"/>
<rect x="445.17" y="848.00" width="18.32" height="19.95" fill="#000006"/>
<rect x="115.50" y="866.95" width="19.32" height="18.95" fill="#ff4834"/>
<rect x="133.81" y="866.95" width="19.32" height="18.95" fill="#fd463b"/>
<rect x="152.13" y="866.95" width="19.32" height="18.95" fill="#610081"/>
<rect x="170.44" y="866.95" width="19.32" height="18.95" fill="#0c0531"/>
<rect x="188.76" y="866.95" width="19.32" height="18.95" fill="#050220"/>
<rect x="207.07" y="866.95" width="19.32" height="18.95" fill="#27045c"/>
<rect x="225.39" y="866.95" width="19.32" height="18.95" fill="#b91e6b"/>
<rect x="243.71" y="866.95" width="19.32" height="18.95" fill="#fbff99"/>
<rect x="262.02" y="866.95" width="19.32" height="18.95" fill="#b91e6b"/>
<rect x="280.34" y="866.95" width="19.32" height="18.95" fill="#ff4d2c"/>
<rect x="298.65" y="866.95" width="19.32" height="18.95" fill="#ffb600"/>
<rect x="316.97" y="866.95" width="19.32" height="18.95" fill="#020116"/>
<rect x="335.28" y="866.95" width="19.32" height="18.95" fill="#ffb600"/>
<rect x="353.60" y="866.95" width="19.32" height="18.95" fill="#1c064e"/>
<rect x="371.91" y="866.95" width="19.32" height="18.95" fill="#ffbd07"/>
<rect x="390.23" y="866.95" width="19.32" height="18.95" fill="#e6304c"/>
<rect x="408.54" y="866.95" width="19.32" height="18.95" fill="#b71e6b"/>
<rect x="426.86" y="866.95" width="19.32" height="18.95" fill="#ea3249"/>
<rect x="445.17" y="866.95" width="19.32" height="18.95" fill="#000004"/>
<rect x="463.49" y="866.95" width="18.32" height="18.95" fill="#01000e"/>
<text x="124.66" y="518.27" font-size="5.94" text-anchor="middle" fill="#ffffff" stroke="#ffffff" stroke-width="0.15" textLength="12.02" lengthAdjust="spacingAndGlyphs">0.14</text>
<text x="124.66" y="537.22" font-size="5.94" text-anchor="middle" fill="#ffffff" stroke="#ffffff" stroke-width="0.15" textLength="12.02" lengthAdjust="spacingAndGlyphs">0.30</text>
<text x="142.97" y="537.22" font-size="5.94" text-anchor="middle" fill="#ffffff" stroke="#ffffff" stroke-width="0.15" textLength="12.02" lengthAdjust="spacingAndGlyphs">0.39</text>
<text x="124.66" y="556.17" font-size="5.94" text-anchor="middle" fill="#ffffff" stroke="#ffffff" stroke-width="0.15" textLength="12.02" lengthAdjust="spacingAndGlyphs">0.12</text>
<text x="142.97" y="556.17" font-size="5.94" text-anchor="middle" fill="#ffffff" stroke="#ffffff" stroke-width="0.15" textLength="12.02" lengthAdjust="spacingAndGlyphs">0.18</text>
<text x="161.29" y="556.17" font-size="5.94" text-anchor="middle" fill="#ffffff" stroke="#ffffff" stroke-width="0.15" textLength="12.02" lengthAdjust="spacingAndGlyphs">0.76</text>
<text x="124.66" y="575.12" font-size="5.94" text-anchor="middle" fill="#ffffff" stroke="#ffffff" stroke-width="0.15" textLength="16.55" lengthAdjust="spacingAndGlyphs">−0.04</text>
<text x="142.97" y="575.12" font-size="5.94" text-anchor="middle" fill="#ffffff" stroke="#ffffff" stroke-width="0.15" textLength="16.55" lengthAdjust="spacingAndGlyphs">−0.01</text>
<text x="161.29" y="575.12" font-size="5.94" text-anchor="middle" fill="#ffffff" stroke="#ffffff" stroke-width="0.15" textLength="12.02" lengthAdjust="spacingAndGlyphs">0.54</text>
<text x="179.60" y="575.12" font-size="5.94" text-anchor="middle" fill="#ffffff" stroke="#ffffff" stroke-width="0.15" textLength="12.02" lengthAdjust="spacingAndGlyphs">0.89</text>
<text x="124.66" y="594.07" font-size="5.94" text-anchor="middle" fill="#ffffff" stroke="#ffffff" stroke-width="0.15" textLength="12.02" lengthAdjust="spacingAndGlyphs">0.23</text>
<text x="142.97" y="594.07" font-size="5.94" text-anchor="middle" fill="#ffffff" stroke="#ffffff" stroke-width="0.15" textLength="12.02" lengthAdjust="spacingAndGlyphs">0.30</text>
<text x="161.29" y="594.07" font-size="5.94" text-anchor="middle" fill="#ffffff" stroke="#ffffff" stroke-width="0.15" textLength="12.02" lengthAdjust="spacingAndGlyphs">0.84</text>
<text x="179.60" y="594.07" font-size="5.94" text-anchor="middle" fill="#ffffff" stroke="#ffffff" stroke-width="0.15" textLength="12.02" lengthAdjust="spacingAndGlyphs">0.93</text>
<text x="197.92" y="594.07" font-size="5.94" text-anchor="middle" fill="#ffffff" stroke="#ffffff" stroke-width="0.15" textLength="12.02" lengthAdjust="spacingAndGlyphs">0.77</text>
<text x="124.66" y="613.02" font-size="5.94" text-anchor="middle" fill="#ffffff" stroke="#ffffff" stroke-width="0.15" textLength="16.55" lengthAdjust="spacingAndGlyphs">−0.29</text>
<text x="142.97" y="613.02" font-size="5.94" text-anchor="middle" fill="#262626" stroke="#262626" stroke-width="0.15" textLength="16.55" lengthAdjust="spacingAndGlyphs">−0.59</text>
<text x="161.29" y="613.02" font-size="5.94" text-anchor="middle" fill="#ffffff" stroke="#ffffff" stroke-width="0.15" textLength="16.55" lengthAdjust="spacingAndGlyphs">−0.42</text>
<text x="179.60" y="613.02" font-size="5.94" text-anchor="middle" fill="#ffffff" stroke="#ffffff" stroke-width="0.15" textLength="16.55" lengthAdjust="spacingAndGlyphs">−0.26</text>
<text x="197.92" y="613.02" font-size="5.94" text-anchor="middle" fill="#ffffff" stroke="#ffffff" stroke-width="0.15" textLength="16.55" lengthAdjust="spacingAndGlyphs">−0.02</text>
<text x="216.23" y="613.02" font-size="5.94" text-anchor="middle" fill="#ffffff" stroke="#ffffff" stroke-width="0.15" textLength="16.55" lengthAdjust="spacingAndGlyphs">−0.41</text>
<text x="124.66" y="631.97" font-size="5.94" text-anchor="middle" fill="#ffffff" stroke="#ffffff" stroke-width="0.15" textLength="16.55" lengthAdjust="spacingAndGlyphs">−0.02</text>
<text x="142.97" y="631.97" font-size="5.94" text-anchor="middle" fill="#ffffff" stroke="#ffffff" stroke-width="0.15" textLength="16.55" lengthAdjust="spacingAndGlyphs">−0.04</text>
<text x="161.29" y="631.97" font-size="5.94" text-anchor="middle" fill="#262626" stroke="#262626" stroke-width="0.15" textLength="16.55" lengthAdjust="spacingAndGlyphs">−0.68</text>
<text x="179.60" y="631.97" font-size="5.94" text-anchor="middle" fill="#262626" stroke="#262626" stroke-width="0.15" textLength="16.55" lengthAdjust="spacingAndGlyphs">−0.89</text>
<text x="197.92" y="631.97" font-size="5.94" text-anchor="middle" fill="#262626" stroke="#262626" stroke-width="0.15" textLength="16.55" lengthAdjust="spacingAndGlyphs">−0.84</text>
<text x="216.23" y="631.97" font-size="5.94" text-anchor="middle" fill="#262626" stroke="#262626" stroke-width="0.15" textLength="16.55" lengthAdjust="spacingAndGlyphs">−0.84</text>
<text x="234.55" y="631.97" font-size="5.94" text-anchor="middle" fill="#ffffff" stroke="#ffffff" stroke-width="0.15" textLength="12.02" lengthAdjust="spacingAndGlyphs">0.07</text>
<text x="124.66" y="650.92" font-size="5.94" text-anchor="middle" fill="#ffffff" stroke="#ffffff" stroke-width="0.15" textLength="16.55" lengthAdjust="spacingAndGlyphs">−0.36</text>
<text x="142.97" y="650.92" font-size="5.94" text-anchor="middle" fill="#ffffff" stroke="#ffffff" stroke-width="0.15" textLength="16.55" lengthAdjust="spacingAndGlyphs">−0.17</text>
<text x="161.29" y="650.92" font-size="5.94" text-anchor="middle" fill="#ffffff" stroke="#ffffff" stroke-width="0.15" textLength="16.55" lengthAdjust="spacingAndGlyphs">−0.31</text>
<text x="179.60" y="650.92" font-size="5.94" text-anchor="middle" fill="#ffffff" stroke="#ffffff" stroke-width="0.15" textLength="16.55" lengthAdjust="spacingAndGlyphs">−0.16</text>
<text x="197.92" y="650.92" font-size="5.94" text-anchor="middle" fill="#ffffff" stroke="#ffffff" stroke-width="0.15" textLength="12.02" lengthAdjust="spacingAndGlyphs">0.04</text>
<text x="216.23" y="650.92" font-size="5.94" text-anchor="middle" fill="#ffffff" stroke="#ffffff" stroke-width="0.15" textLength="16.55" lengthAdjust="spacingAndGlyphs">−0.28</text>
<text x="234.55" y="650.92" font-size="5.94" text-anchor="middle" fill="#ffffff" stroke="#ffffff" stroke-width="0.15" textLength="12.02" lengthAdjust="spacingAndGlyphs">0.64</text>
<text x="252.86" y="650.92" font-size="5.94" text-anchor="middle" fill="#ffffff" stroke="#ffffff" stroke-width="0.15" textLength="12.02" lengthAdjust="spacingAndGlyphs">0.02</text>
<text x="124.66" y="669.87" font-size="5.94" text-anchor="middle" fill="#ffffff" stroke="#ffffff" stroke-width="0.15" textLength="12.02" lengthAdjust="spacingAndGlyphs">0.28</text>
<text x="142.97" y="669.87" font-size="5.94" text-anchor="middle" fill="#ffffff" stroke="#ffffff" stroke-width="0.15" textLength="12.02" lengthAdjust="spacingAndGlyphs">0.20</text>
<text x="161.29" y="669.87" font-size="5.94" text-anchor="middle" fill="#ffffff" stroke="#ffffff" stroke-width="0.15" textLength="12.02" lengthAdjust="spacingAndGlyphs">0.28</text>
<text x="179.60" y="669.87" font-size="5.94" text-anchor="middle" fill="#ffffff" stroke="#ffffff" stroke-width="0.15" textLength="16.55" lengthAdjust="spacingAndGlyphs">−0.01</text>
<text x="197.92" y="669.87" font-size="5.94" text-anchor="middle" fill="#ffffff" stroke="#ffffff" stroke-width="0.15" textLength="16.55" lengthAdjust="spacingAndGlyphs">−0.09</text>
<text x="216.23" y="669.87" font-size="5.94" text-anchor="middle" fill="#ffffff" stroke="#ffffff" stroke-width="0.15" textLength="12.02" lengthAdjust="spacingAndGlyphs">0.04</text>
<text x="234.55" y="669.87" font-size="5.94" text-anchor="middle" fill="#ffffff" stroke="#ffffff" stroke-width="0.15" textLength="16.55" lengthAdjust="spacingAndGlyphs">−0.06</text>
<text x="252.86" y="669.87" font-size="5.94" text-anchor="middle" fill="#ffffff" stroke="#ffffff" stroke-width="0.15" textLength="12.02" lengthAdjust="spacingAndGlyphs">0.13</text>
<text x="271.18" y="669.87" font-size="5.94" text-anchor="middle" fill="#ffffff" stroke="#ffffff" stroke-width="0.15" textLength="16.55" lengthAdjust="spacingAndGlyphs">−0.07</text>
<text x="124.66" y="688.82" font-size="5.94" text-anchor="middle" fill="#ffffff" stroke="#ffffff" stroke-width="0.15" textLength="16.55" lengthAdjust="spacingAndGlyphs">−0.40</text>
<text x="142.97" y="688.82" font-size="5.94" text-anchor="middle" fill="#ffffff" stroke="#ffffff" stroke-width="0.15" textLength="16.55" lengthAdjust="spacingAndGlyphs">−0.43</text>
<text x="161.29" y="688.82" font-size="5.94" text-anchor="middle" fill="#262626" stroke="#262626" stroke-width="0.15" textLength="16.55" lengthAdjust="spacingAndGlyphs">−0.84</text>
<text x="179.60" y="688.82" font-size="5.94" text-anchor="middle" fill="#262626" stroke="#262626" stroke-width="0.15" textLength="16.55" lengthAdjust="spacingAndGlyphs">−0.84</text>
<text x="197.92" y="688.82" font-size="5.94" text-anchor="middle" fill="#262626" stroke="#262626" stroke-width="0.15" textLength="16.55" lengthAdjust="spacingAndGlyphs">−0.65</text>
<text x="216.23" y="688.82" font-size="5.94" text-anchor="middle" fill="#262626" stroke="#262626" stroke-width="0.15" textLength="16.55" lengthAdjust="spacingAndGlyphs">−0.89</text>
<text x="234.55" y="688.82" font-size="5.94" text-anchor="middle" fill="#ffffff" stroke="#ffffff" stroke-width="0.15" textLength="12.02" lengthAdjust="spacingAndGlyphs">0.45</text>
<text x="252.86" y="688.82" font-size="5.94" text-anchor="middle" fill="#ffffff" stroke="#ffffff" stroke-width="0.15" textLength="12.02" lengthAdjust="spacingAndGlyphs">0.75</text>
<text x="271.18" y="688.82" font-size="5.94" text-anchor="middle" fill="#ffffff" stroke="#ffffff" stroke-width="0.15" textLength="12.02" lengthAdjust="spacingAndGlyphs">0.30</text>
<text x="289.49" y="688.82" font-size="5.94" text-anchor="middle" fill="#ffffff" stroke="#ffffff" stroke-width="0.15" textLength="16.55" lengthAdjust="spacingAndGlyphs">−0.10</text>
<text x="124.66" y="707.77" font-size="5.94" text-anchor="middle" fill="#ffffff" stroke="#ffffff" stroke-width="0.15" textLength="16.55" lengthAdjust="spacingAndGlyphs">−0.09</text>
<text x="142.97" y="707.77" font-size="5.94" text-anchor="middle" fill="#ffffff" stroke="#ffffff" stroke-width="0.15" textLength="12.02" lengthAdjust="spacingAndGlyphs">0.17</text>
<text x="161.29" y="707.77" font-size="5.94" text-anchor="middle" fill="#ffffff" stroke="#ffffff" stroke-width="0.15" textLength="12.02" lengthAdjust="spacingAndGlyphs">0.62</text>
<text x="179.60" y="707.77" font-size="5.94" text-anchor="middle" fill="#ffffff" stroke="#ffffff" stroke-width="0.15" textLength="12.02" lengthAdjust="spacingAndGlyphs">0.86</text>
<text x="197.92" y="707.77" font-size="5.94" text-anchor="middle" fill="#ffffff" stroke="#ffffff" stroke-width="0.15" textLength="12.02" lengthAdjust="spacingAndGlyphs">0.83</text>
<text x="216.23" y="707.77" font-size="5.94" text-anchor="middle" fill="#ffffff" stroke="#ffffff" stroke-width="0.15" textLength="12.02" lengthAdjust="spacingAndGlyphs">0.79</text>
<text x="234.55" y="707.77" font-size="5.94" text-anchor="middle" fill="#ffffff" stroke="#ffffff" stroke-width="0.15" textLength="16.55" lengthAdjust="spacingAndGlyphs">−0.02</text>
<text x="252.86" y="707.77" font-size="5.94" text-anchor="middle" fill="#262626" stroke="#262626" stroke-width="0.15" textLength="16.55" lengthAdjust="spacingAndGlyphs">−0.88</text>
<text x="271.18" y="707.77" font-size="5.94" text-anchor="middle" fill="#ffffff" stroke="#ffffff" stroke-width="0.15" textLength="12.02" lengthAdjust="spacingAndGlyphs">0.12</text>
<text x="289.49" y="707.77" font-size="5.94" text-anchor="middle" fill="#ffffff" stroke="#ffffff" stroke-width="0.15" textLength="16.55" lengthAdjust="spacingAndGlyphs">−0.15</text>
<text x="307.81" y="707.77" font-size="5.94" text-anchor="middle" fill="#262626" stroke="#262626" stroke-width="0.15" textLength="16.55" lengthAdjust="spacingAndGlyphs">−0.72</text>
<text x="124.66" y="726.72" font-size="5.94" text-anchor="middle" fill="#ffffff" stroke="#ffffff" stroke-width="0.15" textLength="16.55" lengthAdjust="spacingAndGlyphs">−0.39</text>
<text x="142.97" y="726.72" font-size="5.94" text-anchor="middle" fill="#ffffff" stroke="#ffffff" stroke-width="0.15" textLength="16.55" lengthAdjust="spacingAndGlyphs">−0.42</text>
<text x="161.29" y="726.72" font-size="5.94" text-anchor="middle" fill="#262626" stroke="#262626" stroke-width="0.15" textLength="16.55" lengthAdjust="spacingAndGlyphs">−0.84</text>
<text x="179.60" y="726.72" font-size="5.94" text-anchor="middle" fill="#262626" stroke="#262626" stroke-width="0.15" textLength="16.55" lengthAdjust="spacingAndGlyphs">−0.84</text>
<text x="197.92" y="726.72" font-size="5.94" text-anchor="middle" fill="#262626" stroke="#262626" stroke-width="0.15" textLength="16.55" lengthAdjust="spacingAndGlyphs">−0.65</text>
<text x="216.23" y="726.72" font-size="5.94" text-anchor="middle" fill="#262626" stroke="#262626" stroke-width="0.15" textLength="16.55" lengthAdjust="spacingAndGlyphs">−0.90</text>
<text x="234.55" y="726.72" font-size="5.94" text-anchor="middle" fill="#ffffff" stroke="#ffffff" stroke-width="0.15" textLength="12.02" lengthAdjust="spacingAndGlyphs">0.45</text>
<text x="252.86" y="726.72" font-size="5.94" text-anchor="middle" fill="#ffffff" stroke="#ffffff" stroke-width="0.15" textLength="12.02" lengthAdjust="spacingAndGlyphs">0.75</text>
<text x="271.18" y="726.72" font-size="5.94" text-anchor="middle" fill="#ffffff" stroke="#ffffff" stroke-width="0.15" textLength="12.02" lengthAdjust="spacingAndGlyphs">0.31</text>
<text x="289.49" y="726.72" font-size="5.94" text-anchor="middle" fill="#ffffff" stroke="#ffffff" stroke-width="0.15" textLength="16.55" lengthAdjust="spacingAndGlyphs">−0.10</text>
<text x="307.81" y="726.72" font-size="5.94" text-anchor="middle" fill="#ffffff" stroke="#ffffff" stroke-width="0.15" textLength="12.02" lengthAdjust="spacingAndGlyphs">0.93</text>
<text x="326.12" y="726.72" font-size="5.94" text-anchor="middle" fill="#262626" stroke="#262626" stroke-width="0.15" textLength="16.55" lengthAdjust="spacingAndGlyphs">−0.72</text>
<text x="124.66" y="745.67" font-size="5.94" text-anchor="middle" fill="#ffffff" stroke="#ffffff" stroke-width="0.15" textLength="12.02" lengthAdjust="spacingAndGlyphs">0.23</text>
<text x="142.97" y="745.67" font-size="5.94" text-anchor="middle" fill="#ffffff" stroke="#ffffff" stroke-width="0.15" textLength="12.02" lengthAdjust="spacingAndGlyphs">0.23</text>
<text x="161.29" y="745.67" font-size="5.94" text-anchor="middle" fill="#ffffff" stroke="#ffffff" stroke-width="0.15" textLength="12.02" lengthAdjust="spacingAndGlyphs">0.80</text>
<text x="179.60" y="745.67" font-size="5.94" text-anchor="middle" fill="#ffffff" stroke="#ffffff" stroke-width="0.15" textLength="12.02" lengthAdjust="spacingAndGlyphs">0.90</text>
<text x="197.92" y="745.67" font-size="5.94" text-anchor="middle" fill="#ffffff" stroke="#ffffff" stroke-width="0.15" textLength="12.02" lengthAdjust="spacingAndGlyphs">0.77</text>
<text x="216.23" y="745.67" font-size="5.94" text-anchor="middle" fill="#ffffff" stroke="#ffffff" stroke-width="0.15" textLength="12.02" lengthAdjust="spacingAndGlyphs">0.92</text>
<text x="234.55" y="745.67" font-size="5.94" text-anchor="middle" fill="#ffffff" stroke="#ffffff" stroke-width="0.15" textLength="16.55" lengthAdjust="spacingAndGlyphs">−0.33</text>
<text x="252.86" y="745.67" font-size="5.94" text-anchor="middle" fill="#262626" stroke="#262626" stroke-width="0.15" textLength="16.55" lengthAdjust="spacingAndGlyphs">−0.85</text>
<text x="271.18" y="745.67" font-size="5.94" text-anchor="middle" fill="#ffffff" stroke="#ffffff" stroke-width="0.15" textLength="16.55" lengthAdjust="spacingAndGlyphs">−0.25</text>
<text x="289.49" y="745.67" font-size="5.94" text-anchor="middle" fill="#ffffff" stroke="#ffffff" stroke-width="0.15" textLength="16.55" lengthAdjust="spacingAndGlyphs">−0.01</text>
<text x="307.81" y="745.67" font-size="5.94" text-anchor="middle" fill="#262626" stroke="#262626" stroke-width="0.15" textLength="16.55" lengthAdjust="spacingAndGlyphs">−0.87</text>
<text x="326.12" y="745.67" font-size="5.94" text-anchor="middle" fill="#ffffff" stroke="#ffffff" stroke-width="0.15" textLength="12.02" lengthAdjust="spacingAndGlyphs">0.79</text>
<text x="344.44" y="745.67" font-size="5.94" text-anchor="middle" fill="#262626" stroke="#262626" stroke-width="0.15" textLength="16.55" lengthAdjust="spacingAndGlyphs">−0.87</text>
<text x="124.66" y="764.62" font-size="5.94" text-anchor="middle" fill="#ffffff" stroke="#ffffff" stroke-width="0.15" textLength="16.55" lengthAdjust="spacingAndGlyphs">−0.40</text>
<text x="142.97" y="764.62" font-size="5.94" text-anchor="middle" fill="#ffffff" stroke="#ffffff" stroke-width="0.15" textLength="16.55" lengthAdjust="spacingAndGlyphs">−0.33</text>
<text x="161.29" y="764.62" font-size="5.94" text-anchor="middle" fill="#262626" stroke="#262626" stroke-width="0.15" textLength="16.55" lengthAdjust="spacingAndGlyphs">−0.84</text>
<text x="179.60" y="764.62" font-size="5.94" text-anchor="middle" fill="#262626" stroke="#262626" stroke-width="0.15" textLength="16.55" lengthAdjust="spacingAndGlyphs">−0.86</text>
<text x="197.92" y="764.62" font-size="5.94" text-anchor="middle" fill="#262626" stroke="#262626" stroke-width="0.15" textLength="16.55" lengthAdjust="spacingAndGlyphs">−0.68</text>
<text x="216.23" y="764.62" font-size="5.94" text-anchor="middle" fill="#262626" stroke="#262626" stroke-width="0.15" textLength="16.55" lengthAdjust="spacingAndGlyphs">−0.90</text>
<text x="234.55" y="764.62" font-size="5.94" text-anchor="middle" fill="#ffffff" stroke="#ffffff" stroke-width="0.15" textLength="12.02" lengthAdjust="spacingAndGlyphs">0.45</text>
<text x="252.86" y="764.62" font-size="5.94" text-anchor="middle" fill="#ffffff" stroke="#ffffff" stroke-width="0.15" textLength="12.02" lengthAdjust="spacingAndGlyphs">0.77</text>
<text x="271.18" y="764.62" font-size="5.94" text-anchor="middle" fill="#ffffff" stroke="#ffffff" stroke-width="0.15" textLength="12.02" lengthAdjust="spacingAndGlyphs">0.34</text>
<text x="289.49" y="764.62" font-size="5.94" text-anchor="middle" fill="#ffffff" stroke="#ffffff" stroke-width="0.15" textLength="16.55" lengthAdjust="spacingAndGlyphs">−0.10</text>
<text x="307.81" y="764.62" font-size="5.94" text-anchor="middle" fill="#ffffff" stroke="#ffffff" stroke-width="0.15" textLength="12.02" lengthAdjust="spacingAndGlyphs">0.92</text>
<text x="326.12" y="764.62" font-size="5.94" text-anchor="middle" fill="#262626" stroke="#262626" stroke-width="0.15" textLength="16.55" lengthAdjust="spacingAndGlyphs">−0.70</text>
<text x="344.44" y="764.62" font-size="5.94" text-anchor="middle" fill="#ffffff" stroke="#ffffff" stroke-width="0.15" textLength="12.02" lengthAdjust="spacingAndGlyphs">0.92</text>
<text x="362.75" y="764.62" font-size="5.94" text-anchor="middle" fill="#262626" stroke="#262626" stroke-width="0.15" textLength="16.55" lengthAdjust="spacingAndGlyphs">−0.89</text>
<text x="124.66" y="783.57" font-size="5.94" text-anchor="middle" fill="#ffffff" stroke="#ffffff" stroke-width="0.15" textLength="16.55" lengthAdjust="spacingAndGlyphs">−0.07</text>
<text x="142.97" y="783.57" font-size="5.94" text-anchor="middle" fill="#ffffff" stroke="#ffffff" stroke-width="0.15" textLength="12.02" lengthAdjust="spacingAndGlyphs">0.01</text>
<text x="161.29" y="783.57" font-size="5.94" text-anchor="middle" fill="#ffffff" stroke="#ffffff" stroke-width="0.15" textLength="16.55" lengthAdjust="spacingAndGlyphs">−0.06</text>
<text x="179.60" y="783.57" font-size="5.94" text-anchor="middle" fill="#ffffff" stroke="#ffffff" stroke-width="0.15" textLength="12.02" lengthAdjust="spacingAndGlyphs">0.05</text>
<text x="197.92" y="783.57" font-size="5.94" text-anchor="middle" fill="#ffffff" stroke="#ffffff" stroke-width="0.15" textLength="12.02" lengthAdjust="spacingAndGlyphs">0.14</text>
<text x="216.23" y="783.57" font-size="5.94" text-anchor="middle" fill="#ffffff" stroke="#ffffff" stroke-width="0.15" textLength="16.55" lengthAdjust="spacingAndGlyphs">−0.01</text>
<text x="234.55" y="783.57" font-size="5.94" text-anchor="middle" fill="#ffffff" stroke="#ffffff" stroke-width="0.15" textLength="12.02" lengthAdjust="spacingAndGlyphs">0.02</text>
<text x="252.86" y="783.57" font-size="5.94" text-anchor="middle" fill="#ffffff" stroke="#ffffff" stroke-width="0.15" textLength="12.02" lengthAdjust="spacingAndGlyphs">0.04</text>
<text x="271.18" y="783.57" font-size="5.94" text-anchor="middle" fill="#ffffff" stroke="#ffffff" stroke-width="0.15" textLength="12.02" lengthAdjust="spacingAndGlyphs">0.06</text>
<text x="289.49" y="783.57" font-size="5.94" text-anchor="middle" fill="#ffffff" stroke="#ffffff" stroke-width="0.15" textLength="12.02" lengthAdjust="spacingAndGlyphs">0.22</text>
<text x="307.81" y="783.57" font-size="5.94" text-anchor="middle" fill="#ffffff" stroke="#ffffff" stroke-width="0.15" textLength="12.02" lengthAdjust="spacingAndGlyphs">0.04</text>
<text x="326.12" y="783.57" font-size="5.94" text-anchor="middle" fill="#ffffff" stroke="#ffffff" stroke-width="0.15" textLength="16.55" lengthAdjust="spacingAndGlyphs">−0.00</text>
<text x="344.44" y="783.57" font-size="5.94" text-anchor="middle" fill="#ffffff" stroke="#ffffff" stroke-width="0.15" textLength="12.02" lengthAdjust="spacingAndGlyphs">0.05</text>
<text x="362.75" y="783.57" font-size="5.94" text-anchor="middle" fill="#ffffff" stroke="#ffffff" stroke-width="0.15" textLength="16.55" lengthAdjust="spacingAndGlyphs">−0.06</text>
<text x="381.07" y="783.57" font-size="5.94" text-anchor="middle" fill="#ffffff" stroke="#ffffff" stroke-width="0.15" textLength="12.02" lengthAdjust="spacingAndGlyphs">0.04</text>
<text x="124.66" y="802.52" font-size="5.94" text-anchor="middle" fill="#ffffff" stroke="#ffffff" stroke-width="0.15" textLength="16.55" lengthAdjust="spacingAndGlyphs">−0.42</text>
<text x="142.97" y="802.52" font-size="5.94" text-anchor="middle" fill="#262626" stroke="#262626" stroke-width="0.15" textLength="16.55" lengthAdjust="spacingAndGlyphs">−0.54</text>
<text x="161.29" y="802.52" font-size="5.94" text-anchor="middle" fill="#ffffff" stroke="#ffffff" stroke-width="0.15" textLength="16.55" lengthAdjust="spacingAndGlyphs">−0.43</text>
<text x="179.60" y="802.52" font-size="5.94" text-anchor="middle" fill="#ffffff" stroke="#ffffff" stroke-width="0.15" textLength="16.55" lengthAdjust="spacingAndGlyphs">−0.26</text>
<text x="197.92" y="802.52" font-size="5.94" text-anchor="middle" fill="#ffffff" stroke="#ffffff" stroke-width="0.15" textLength="16.55" lengthAdjust="spacingAndGlyphs">−0.06</text>
<text x="216.23" y="802.52" font-size="5.94" text-anchor="middle" fill="#ffffff" stroke="#ffffff" stroke-width="0.15" textLength="16.55" lengthAdjust="spacingAndGlyphs">−0.39</text>
<text x="234.55" y="802.52" font-size="5.94" text-anchor="middle" fill="#ffffff" stroke="#ffffff" stroke-width="0.15" textLength="12.02" lengthAdjust="spacingAndGlyphs">0.73</text>
<text x="252.86" y="802.52" font-size="5.94" text-anchor="middle" fill="#ffffff" stroke="#ffffff" stroke-width="0.15" textLength="12.02" lengthAdjust="spacingAndGlyphs">0.02</text>
<text x="271.18" y="802.52" font-size="5.94" text-anchor="middle" fill="#ffffff" stroke="#ffffff" stroke-width="0.15" textLength="12.02" lengthAdjust="spacingAndGlyphs">0.58</text>
<text x="289.49" y="802.52" font-size="5.94" text-anchor="middle" fill="#ffffff" stroke="#ffffff" stroke-width="0.15" textLength="16.55" lengthAdjust="spacingAndGlyphs">−0.36</text>
<text x="307.81" y="802.52" font-size="5.94" text-anchor="middle" fill="#ffffff" stroke="#ffffff" stroke-width="0.15" textLength="12.02" lengthAdjust="spacingAndGlyphs">0.44</text>
<text x="326.12" y="802.52" font-size="5.94" text-anchor="middle" fill="#ffffff" stroke="#ffffff" stroke-width="0.15" textLength="12.02" lengthAdjust="spacingAndGlyphs">0.02</text>
<text x="344.44" y="802.52" font-size="5.94" text-anchor="middle" fill="#ffffff" stroke="#ffffff" stroke-width="0.15" textLength="12.02" lengthAdjust="spacingAndGlyphs">0.43</text>
<text x="362.75" y="802.52" font-size="5.94" text-anchor="middle" fill="#ffffff" stroke="#ffffff" stroke-width="0.15" textLength="16.55" lengthAdjust="spacingAndGlyphs">−0.29</text>
<text x="381.07" y="802.52" font-size="5.94" text-anchor="middle" fill="#ffffff" stroke="#ffffff" stroke-width="0.15" textLength="12.02" lengthAdjust="spacingAndGlyphs">0.44</text>
<text x="399.38" y="802.52" font-size="5.94" text-anchor="middle" fill="#ffffff" stroke="#ffffff" stroke-width="0.15" textLength="16.55" lengthAdjust="spacingAndGlyphs">−0.17</text>
<text x="124.66" y="821.47" font-size="5.94" text-anchor="middle" fill="#ffffff" stroke="#ffffff" stroke-width="0.15" textLength="12.02" lengthAdjust="spacingAndGlyphs">0.24</text>
<text x="142.97" y="821.47" font-size="5.94" text-anchor="middle" fill="#ffffff" stroke="#ffffff" stroke-width="0.15" textLength="16.55" lengthAdjust="spacingAndGlyphs">−0.20</text>
<text x="161.29" y="821.47" font-size="5.94" text-anchor="middle" fill="#ffffff" stroke="#ffffff" stroke-width="0.15" textLength="12.02" lengthAdjust="spacingAndGlyphs">0.11</text>
<text x="179.60" y="821.47" font-size="5.94" text-anchor="middle" fill="#ffffff" stroke="#ffffff" stroke-width="0.15" textLength="16.55" lengthAdjust="spacingAndGlyphs">−0.02</text>
<text x="197.92" y="821.47" font-size="5.94" text-anchor="middle" fill="#ffffff" stroke="#ffffff" stroke-width="0.15" textLength="16.55" lengthAdjust="spacingAndGlyphs">−0.03</text>
<text x="216.23" y="821.47" font-size="5.94" text-anchor="middle" fill="#ffffff" stroke="#ffffff" stroke-width="0.15" textLength="16.55" lengthAdjust="spacingAndGlyphs">−0.01</text>
<text x="234.55" y="821.47" font-size="5.94" text-anchor="middle" fill="#ffffff" stroke="#ffffff" stroke-width="0.15" textLength="12.02" lengthAdjust="spacingAndGlyphs">0.18</text>
<text x="252.86" y="821.47" font-size="5.94" text-anchor="middle" fill="#ffffff" stroke="#ffffff" stroke-width="0.15" textLength="16.55" lengthAdjust="spacingAndGlyphs">−0.00</text>
<text x="271.18" y="821.47" font-size="5.94" text-anchor="middle" fill="#ffffff" stroke="#ffffff" stroke-width="0.15" textLength="12.02" lengthAdjust="spacingAndGlyphs">0.02</text>
<text x="289.49" y="821.47" font-size="5.94" text-anchor="middle" fill="#ffffff" stroke="#ffffff" stroke-width="0.15" textLength="12.02" lengthAdjust="spacingAndGlyphs">0.30</text>
<text x="307.81" y="821.47" font-size="5.94" text-anchor="middle" fill="#ffffff" stroke="#ffffff" stroke-width="0.15" textLength="16.55" lengthAdjust="spacingAndGlyphs">−0.01</text>
<text x="326.12" y="821.47" font-size="5.94" text-anchor="middle" fill="#ffffff" stroke="#ffffff" stroke-width="0.15" textLength="16.55" lengthAdjust="spacingAndGlyphs">−0.08</text>
<text x="344.44" y="821.47" font-size="5.94" text-anchor="middle" fill="#ffffff" stroke="#ffffff" stroke-width="0.15" textLength="16.55" lengthAdjust="spacingAndGlyphs">−0.01</text>
<text x="362.75" y="821.47" font-size="5.94" text-anchor="middle" fill="#ffffff" stroke="#ffffff" stroke-width="0.15" textLength="12.02" lengthAdjust="spacingAndGlyphs">0.01</text>
<text x="381.07" y="821.47" font-size="5.94" text-anchor="middle" fill="#ffffff" stroke="#ffffff" stroke-width="0.15" textLength="16.55" lengthAdjust="spacingAndGlyphs">−0.05</text>
<text x="399.38" y="821.47" font-size="5.94" text-anchor="middle" fill="#ffffff" stroke="#ffffff" stroke-width="0.15" textLength="16.55" lengthAdjust="spacingAndGlyphs">−0.15</text>
<text x="417.70" y="821.47" font-size="5.94" text-anchor="middle" fill="#ffffff" stroke="#ffffff" stroke-width="0.15" textLength="12.02" lengthAdjust="spacingAndGlyphs">0.03</text>
<text x="124.66" y="840.42" font-size="5.94" text-anchor="middle" fill="#ffffff" stroke="#ffffff" stroke-width="0.15" textLength="16.55" lengthAdjust="spacingAndGlyphs">−0.06</text>
<text x="142.97" y="840.42" font-size="5.94" text-anchor="middle" fill="#ffffff" stroke="#ffffff" stroke-width="0.15" textLength="16.55" lengthAdjust="spacingAndGlyphs">−0.03</text>
<text x="161.29" y="840.42" font-size="5.94" text-anchor="middle" fill="#ffffff" stroke="#ffffff" stroke-width="0.15" textLength="12.02" lengthAdjust="spacingAndGlyphs">0.62</text>
<text x="179.60" y="840.42" font-size="5.94" text-anchor="middle" fill="#ffffff" stroke="#ffffff" stroke-width="0.15" textLength="12.02" lengthAdjust="spacingAndGlyphs">0.87</text>
<text x="197.92" y="840.42" font-size="5.94" text-anchor="middle" fill="#ffffff" stroke="#ffffff" stroke-width="0.15" textLength="12.02" lengthAdjust="spacingAndGlyphs">0.87</text>
<text x="216.23" y="840.42" font-size="5.94" text-anchor="middle" fill="#ffffff" stroke="#ffffff" stroke-width="0.15" textLength="12.02" lengthAdjust="spacingAndGlyphs">0.78</text>
<text x="234.55" y="840.42" font-size="5.94" text-anchor="middle" fill="#ffffff" stroke="#ffffff" stroke-width="0.15" textLength="12.02" lengthAdjust="spacingAndGlyphs">0.08</text>
<text x="252.86" y="840.42" font-size="5.94" text-anchor="middle" fill="#262626" stroke="#262626" stroke-width="0.15" textLength="16.55" lengthAdjust="spacingAndGlyphs">−0.89</text>
<text x="271.18" y="840.42" font-size="5.94" text-anchor="middle" fill="#ffffff" stroke="#ffffff" stroke-width="0.15" textLength="12.02" lengthAdjust="spacingAndGlyphs">0.10</text>
<text x="289.49" y="840.42" font-size="5.94" text-anchor="middle" fill="#ffffff" stroke="#ffffff" stroke-width="0.15" textLength="16.55" lengthAdjust="spacingAndGlyphs">−0.10</text>
<text x="307.81" y="840.42" font-size="5.94" text-anchor="middle" fill="#262626" stroke="#262626" stroke-width="0.15" textLength="16.55" lengthAdjust="spacingAndGlyphs">−0.67</text>
<text x="326.12" y="840.42" font-size="5.94" text-anchor="middle" fill="#ffffff" stroke="#ffffff" stroke-width="0.15" textLength="12.02" lengthAdjust="spacingAndGlyphs">0.90</text>
<text x="344.44" y="840.42" font-size="5.94" text-anchor="middle" fill="#262626" stroke="#262626" stroke-width="0.15" textLength="16.55" lengthAdjust="spacingAndGlyphs">−0.68</text>
<text x="362.75" y="840.42" font-size="5.94" text-anchor="middle" fill="#ffffff" stroke="#ffffff" stroke-width="0.15" textLength="12.02" lengthAdjust="spacingAndGlyphs">0.80</text>
<text x="381.07" y="840.42" font-size="5.94" text-anchor="middle" fill="#262626" stroke="#262626" stroke-width="0.15" textLength="16.55" lengthAdjust="spacingAndGlyphs">−0.69</text>
<text x="399.38" y="840.42" font-size="5.94" text-anchor="middle" fill="#ffffff" stroke="#ffffff" stroke-width="0.15" textLength="12.02" lengthAdjust="spacingAndGlyphs">0.05</text>
<text x="417.70" y="840.42" font-size="5.94" text-anchor="middle" fill="#ffffff" stroke="#ffffff" stroke-width="0.15" textLength="12.02" lengthAdjust="spacingAndGlyphs">0.08</text>
<text x="436.01" y="840.42" font-size="5.94" text-anchor="middle" fill="#ffffff" stroke="#ffffff" stroke-width="0.15" textLength="12.02" lengthAdjust="spacingAndGlyphs">0.02</text>
<text x="124.66" y="859.37" font-size="5.94" text-anchor="middle" fill="#ffffff" stroke="#ffffff" stroke-width="0.15" textLength="12.02" lengthAdjust="spacingAndGlyphs">0.03</text>
<text x="142.97" y="859.37" font-size="5.94" text-anchor="middle" fill="#ffffff" stroke="#ffffff" stroke-width="0.15" textLength="12.02" lengthAdjust="spacingAndGlyphs">0.05</text>
<text x="161.29" y="859.37" font-size="5.94" text-anchor="middle" fill="#ffffff" stroke="#ffffff" stroke-width="0.15" textLength="12.02" lengthAdjust="spacingAndGlyphs">0.68</text>
<text x="179.60" y="859.37" font-size="5.94" text-anchor="middle" fill="#ffffff" stroke="#ffffff" stroke-width="0.15" textLength="12.02" lengthAdjust="spacingAndGlyphs">0.92</text>
<text x="197.92" y="859.37" font-size="5.94" text-anchor="middle" fill="#ffffff" stroke="#ffffff" stroke-width="0.15" textLength="12.02" lengthAdjust="spacingAndGlyphs">0.89</text>
<text x="216.23" y="859.37" font-size="5.94" text-anchor="middle" fill="#ffffff" stroke="#ffffff" stroke-width="0.15" textLength="12.02" lengthAdjust="spacingAndGlyphs">0.86</text>
<text x="234.55" y="859.37" font-size="5.94" text-anchor="middle" fill="#ffffff" stroke="#ffffff" stroke-width="0.15" textLength="16.55" lengthAdjust="spacingAndGlyphs">−0.05</text>
<text x="252.86" y="859.37" font-size="5.94" text-anchor="middle" fill="#262626" stroke="#262626" stroke-width="0.15" textLength="16.55" lengthAdjust="spacingAndGlyphs">−0.90</text>
<text x="271.18" y="859.37" font-size="5.94" text-anchor="middle" fill="#ffffff" stroke="#ffffff" stroke-width="0.15" textLength="12.02" lengthAdjust="spacingAndGlyphs">0.01</text>
<text x="289.49" y="859.37" font-size="5.94" text-anchor="middle" fill="#ffffff" stroke="#ffffff" stroke-width="0.15" textLength="16.55" lengthAdjust="spacingAndGlyphs">−0.06</text>
<text x="307.81" y="859.37" font-size="5.94" text-anchor="middle" fill="#262626" stroke="#262626" stroke-width="0.15" textLength="16.55" lengthAdjust="spacingAndGlyphs">−0.75</text>
<text x="326.12" y="859.37" font-size="5.94" text-anchor="middle" fill="#ffffff" stroke="#ffffff" stroke-width="0.15" textLength="12.02" lengthAdjust="spacingAndGlyphs">0.89</text>
<text x="344.44" y="859.37" font-size="5.94" text-anchor="middle" fill="#262626" stroke="#262626" stroke-width="0.15" textLength="16.55" lengthAdjust="spacingAndGlyphs">−0.76</text>
<text x="362.75" y="859.37" font-size="5.94" text-anchor="middle" fill="#ffffff" stroke="#ffffff" stroke-width="0.15" textLength="12.02" lengthAdjust="spacingAndGlyphs">0.85</text>
<text x="381.07" y="859.37" font-size="5.94" text-anchor="middle" fill="#262626" stroke="#262626" stroke-width="0.15" textLength="16.55" lengthAdjust="spacingAndGlyphs">−0.77</text>
<text x="399.38" y="859.37" font-size="5.94" text-anchor="middle" fill="#ffffff" stroke="#ffffff" stroke-width="0.15" textLength="12.02" lengthAdjust="spacingAndGlyphs">0.05</text>
<text x="417.70" y="859.37" font-size="5.94" text-anchor="middle" fill="#ffffff" stroke="#ffffff" stroke-width="0.15" textLength="16.55" lengthAdjust="spacingAndGlyphs">−0.07</text>
<text x="436.01" y="859.37" font-size="5.94" text-anchor="middle" fill="#ffffff" stroke="#ffffff" stroke-width="0.15" textLength="12.02" lengthAdjust="spacingAndGlyphs">0.02</text>
<text x="454.33" y="859.37" font-size="5.94" text-anchor="middle" fill="#ffffff" stroke="#ffffff" stroke-width="0.15" textLength="12.02" lengthAdjust="spacingAndGlyphs">0.94</text>
<text x="124.66" y="878.32" font-size="5.94" text-anchor="middle" fill="#ffffff" stroke="#ffffff" stroke-width="0.15" textLength="16.55" lengthAdjust="spacingAndGlyphs">−0.12</text>
<text x="142.97" y="878.32" font-size="5.94" text-anchor="middle" fill="#ffffff" stroke="#ffffff" stroke-width="0.15" textLength="16.55" lengthAdjust="spacingAndGlyphs">−0.10</text>
<text x="161.29" y="878.32" font-size="5.94" text-anchor="middle" fill="#ffffff" stroke="#ffffff" stroke-width="0.15" textLength="12.02" lengthAdjust="spacingAndGlyphs">0.54</text>
<text x="179.60" y="878.32" font-size="5.94" text-anchor="middle" fill="#ffffff" stroke="#ffffff" stroke-width="0.15" textLength="12.02" lengthAdjust="spacingAndGlyphs">0.82</text>
<text x="197.92" y="878.32" font-size="5.94" text-anchor="middle" fill="#ffffff" stroke="#ffffff" stroke-width="0.15" textLength="12.02" lengthAdjust="spacingAndGlyphs">0.86</text>
<text x="216.23" y="878.32" font-size="5.94" text-anchor="middle" fill="#ffffff" stroke="#ffffff" stroke-width="0.15" textLength="12.02" lengthAdjust="spacingAndGlyphs">0.71</text>
<text x="234.55" y="878.32" font-size="5.94" text-anchor="middle" fill="#ffffff" stroke="#ffffff" stroke-width="0.15" textLength="12.02" lengthAdjust="spacingAndGlyphs">0.18</text>
<text x="252.86" y="878.32" font-size="5.94" text-anchor="middle" fill="#262626" stroke="#262626" stroke-width="0.15" textLength="16.55" lengthAdjust="spacingAndGlyphs">−0.87</text>
<text x="271.18" y="878.32" font-size="5.94" text-anchor="middle" fill="#ffffff" stroke="#ffffff" stroke-width="0.15" textLength="12.02" lengthAdjust="spacingAndGlyphs">0.18</text>
<text x="289.49" y="878.32" font-size="5.94" text-anchor="middle" fill="#ffffff" stroke="#ffffff" stroke-width="0.15" textLength="16.55" lengthAdjust="spacingAndGlyphs">−0.15</text>
<text x="307.81" y="878.32" font-size="5.94" text-anchor="middle" fill="#262626" stroke="#262626" stroke-width="0.15" textLength="16.55" lengthAdjust="spacingAndGlyphs">−0.60</text>
<text x="326.12" y="878.32" font-size="5.94" text-anchor="middle" fill="#ffffff" stroke="#ffffff" stroke-width="0.15" textLength="12.02" lengthAdjust="spacingAndGlyphs">0.89</text>
<text x="344.44" y="878.32" font-size="5.94" text-anchor="middle" fill="#262626" stroke="#262626" stroke-width="0.15" textLength="16.55" lengthAdjust="spacingAndGlyphs">−0.60</text>
<text x="362.75" y="878.32" font-size="5.94" text-anchor="middle" fill="#ffffff" stroke="#ffffff" stroke-width="0.15" textLength="12.02" lengthAdjust="spacingAndGlyphs">0.75</text>
<text x="381.07" y="878.32" font-size="5.94" text-anchor="middle" fill="#262626" stroke="#262626" stroke-width="0.15" textLength="16.55" lengthAdjust="spacingAndGlyphs">−0.62</text>
<text x="399.38" y="878.32" font-size="5.94" text-anchor="middle" fill="#ffffff" stroke="#ffffff" stroke-width="0.15" textLength="16.55" lengthAdjust="spacingAndGlyphs">−0.00</text>
<text x="417.70" y="878.32" font-size="5.94" text-anchor="middle" fill="#ffffff" stroke="#ffffff" stroke-width="0.15" textLength="12.02" lengthAdjust="spacingAndGlyphs">0.19</text>
<text x="436.01" y="878.32" font-size="5.94" text-anchor="middle" fill="#ffffff" stroke="#ffffff" stroke-width="0.15" textLength="16.55" lengthAdjust="spacingAndGlyphs">−0.01</text>
<text x="454.33" y="878.32" font-size="5.94" text-anchor="middle" fill="#ffffff" stroke="#ffffff" stroke-width="0.15" textLength="12.02" lengthAdjust="spacingAndGlyphs">0.95</text>
<text x="472.64" y="878.32" font-size="5.94" text-anchor="middle" fill="#ffffff" stroke="#ffffff" stroke-width="0.15" textLength="12.02" lengthAdjust="spacingAndGlyphs">0.91</text>
<line x1="113.51" y1="516.38" x2="115.50" y2="516.38" stroke="#000" stroke-width="0.46"/>
<text x="111.01" y="518.29" font-size="6.01" text-anchor="end" fill="#262626" stroke="#262626" stroke-width="0.10" textLength="66.06" lengthAdjust="spacingAndGlyphs">Bottom plan side count</text>
<line x1="113.51" y1="535.32" x2="115.50" y2="535.32" stroke="#000" stroke-width="0.46"/>
<text x="111.01" y="537.24" font-size="6.01" text-anchor="end" fill="#262626" stroke="#262626" stroke-width="0.10" textLength="54.79" lengthAdjust="spacingAndGlyphs">Center of gravity_Z</text>
<line x1="113.51" y1="554.27" x2="115.50" y2="554.27" stroke="#000" stroke-width="0.46"/>
<text x="111.01" y="556.19" font-size="6.01" text-anchor="end" fill="#262626" stroke="#262626" stroke-width="0.10" textLength="54.50" lengthAdjust="spacingAndGlyphs">Diagrid degree Avg</text>
<line x1="113.51" y1="573.23" x2="115.50" y2="573.23" stroke="#000" stroke-width="0.46"/>
<text x="111.01" y="575.14" font-size="6.01" text-anchor="end" fill="#262626" stroke="#262626" stroke-width="0.10" textLength="72.00" lengthAdjust="spacingAndGlyphs">Diagrid degree at bottom</text>
<line x1="113.51" y1="592.17" x2="115.50" y2="592.17" stroke="#000" stroke-width="0.46"/>
<text x="111.01" y="594.09" font-size="6.01" text-anchor="end" fill="#262626" stroke="#262626" stroke-width="0.10" textLength="60.79" lengthAdjust="spacingAndGlyphs">Diagrid degree at top</text>
<line x1="113.51" y1="611.12" x2="115.50" y2="611.12" stroke="#000" stroke-width="0.46"/>
<text x="111.01" y="613.04" font-size="6.01" text-anchor="end" fill="#262626" stroke="#262626" stroke-width="0.10" textLength="73.47" lengthAdjust="spacingAndGlyphs">Displacement of top story</text>
<line x1="113.51" y1="630.07" x2="115.50" y2="630.07" stroke="#000" stroke-width="0.46"/>
<text x="111.01" y="631.99" font-size="6.01" text-anchor="end" fill="#262626" stroke="#262626" stroke-width="0.10" textLength="40.06" lengthAdjust="spacingAndGlyphs">Elastic energy</text>
<line x1="113.51" y1="649.02" x2="115.50" y2="649.02" stroke="#000" stroke-width="0.46"/>
<text x="111.01" y="650.94" font-size="6.01" text-anchor="end" fill="#262626" stroke="#262626" stroke-width="0.10" textLength="69.39" lengthAdjust="spacingAndGlyphs">Expected Design Weight</text>
<line x1="113.51" y1="667.97" x2="115.50" y2="667.97" stroke="#000" stroke-width="0.46"/>
<text x="111.01" y="669.89" font-size="6.01" text-anchor="end" fill="#262626" stroke="#262626" stroke-width="0.10" textLength="18.74" lengthAdjust="spacingAndGlyphs">Height</text>
<line x1="113.51" y1="686.92" x2="115.50" y2="686.92" stroke="#000" stroke-width="0.46"/>
<text x="111.01" y="688.84" font-size="6.01" text-anchor="end" fill="#262626" stroke="#262626" stroke-width="0.10" textLength="94.96" lengthAdjust="spacingAndGlyphs">MAX NORMAL FORCES ABSOLUTE</text>
<line x1="113.51" y1="705.88" x2="115.50" y2="705.88" stroke="#000" stroke-width="0.46"/>
<text x="111.01" y="707.79" font-size="6.01" text-anchor="end" fill="#262626" stroke="#262626" stroke-width="0.10" textLength="106.99" lengthAdjust="spacingAndGlyphs">MAX NORMAL FORCES COMPRESSION</text>
<line x1="113.51" y1="724.82" x2="115.50" y2="724.82" stroke="#000" stroke-width="0.46"/>
<text x="111.01" y="726.74" font-size="6.01" text-anchor="end" fill="#262626" stroke="#262626" stroke-width="0.10" textLength="90.42" lengthAdjust="spacingAndGlyphs">MAX NORMAL FORCES TENSION</text>
<line x1="113.51" y1="743.77" x2="115.50" y2="743.77" stroke="#000" stroke-width="0.46"/>
<text x="111.01" y="745.69" font-size="6.01" text-anchor="end" fill="#262626" stroke="#262626" stroke-width="0.10" textLength="81.46" lengthAdjust="spacingAndGlyphs">MAX Utilization Compression</text>
<line x1="113.51" y1="762.72" x2="115.50" y2="762.72" stroke="#000" stroke-width="0.46"/>
<text x="111.01" y="764.64" font-size="6.01" text-anchor="end" fill="#262626" stroke="#262626" stroke-width="0.10" textLength="65.84" lengthAdjust="spacingAndGlyphs">MAX Utilization Tension</text>
<line x1="113.51" y1="781.67" x2="115.50" y2="781.67" stroke="#000" stroke-width="0.46"/>
<text x="111.01" y="783.59" font-size="6.01" text-anchor="end" fill="#262626" stroke="#262626" stroke-width="0.10" textLength="54.83" lengthAdjust="spacingAndGlyphs">Top plan side count</text>
<line x1="113.51" y1="800.62" x2="115.50" y2="800.62" stroke="#000" stroke-width="0.46"/>
<text x="111.01" y="802.54" font-size="6.01" text-anchor="end" fill="#262626" stroke="#262626" stroke-width="0.10" textLength="49.79" lengthAdjust="spacingAndGlyphs">Total Façade Area</text>
<line x1="113.51" y1="819.58" x2="115.50" y2="819.58" stroke="#000" stroke-width="0.46"/>
<text x="111.01" y="821.49" font-size="6.01" text-anchor="end" fill="#262626" stroke="#262626" stroke-width="0.10" textLength="45.87" lengthAdjust="spacingAndGlyphs">Total Gross Area</text>
<line x1="113.51" y1="838.52" x2="115.50" y2="838.52" stroke="#000" stroke-width="0.46"/>
<text x="111.01" y="840.44" font-size="6.01" text-anchor="end" fill="#262626" stroke="#262626" stroke-width="0.10" textLength="29.32" lengthAdjust="spacingAndGlyphs">Total Mass</text>
<line x1="113.51" y1="857.47" x2="115.50" y2="857.47" stroke="#000" stroke-width="0.46"/>
<text x="111.01" y="859.39" font-size="6.01" text-anchor="end" fill="#262626" stroke="#262626" stroke-width="0.10" textLength="69.47" lengthAdjust="spacingAndGlyphs">Total amount of Diagrids</text>
<line x1="113.51" y1="876.42" x2="115.50" y2="876.42" stroke="#000" stroke-width="0.46"/>
<text x="111.01" y="878.34" font-size="6.01" text-anchor="end" fill="#262626" stroke="#262626" stroke-width="0.10" textLength="91.14" lengthAdjust="spacingAndGlyphs">total length of Diagrid members</text>
<line x1="124.66" y1="885.90" x2="124.66" y2="887.89" stroke="#000" stroke-width="0.46"/>
<text x="123.82" y="893.49" font-size="6.01" text-anchor="end" fill="#262626" stroke="#262626" stroke-width="0.10" textLength="35.62" lengthAdjust="spacingAndGlyphs" transform="rotate(-45 123.82 893.49)">Aspect Ratio</text>
<line x1="142.97" y1="885.90" x2="142.97" y2="887.89" stroke="#000" stroke-width="0.46"/>
<text x="142.14" y="893.49" font-size="6.01" text-anchor="end" fill="#262626" stroke="#262626" stroke-width="0.10" textLength="66.06" lengthAdjust="spacingAndGlyphs" transform="rotate(-45 142.14 893.49)">Bottom plan side count</text>
<line x1="161.29" y1="885.90" x2="161.29" y2="887.89" stroke="#000" stroke-width="0.46"/>
<text x="160.34" y="893.49" font-size="6.01" text-anchor="end" fill="#262626" stroke="#262626" stroke-width="0.10" textLength="54.79" lengthAdjust="spacingAndGlyphs" transform="rotate(-45 160.34 893.49)">Center of gravity_Z</text>
<line x1="179.60" y1="885.90" x2="179.60" y2="887.89" stroke="#000" stroke-width="0.46"/>
<text x="178.77" y="893.49" font-size="6.01" text-anchor="end" fill="#262626" stroke="#262626" stroke-width="0.10" textLength="54.50" lengthAdjust="spacingAndGlyphs" transform="rotate(-45 178.77 893.49)">Diagrid degree Avg</text>
<line x1="197.92" y1="885.90" x2="197.92" y2="887.89" stroke="#000" stroke-width="0.46"/>
<text x="197.08" y="893.49" font-size="6.01" text-anchor="end" fill="#262626" stroke="#262626" stroke-width="0.10" textLength="72.00" lengthAdjust="spacingAndGlyphs" transform="rotate(-45 197.08 893.49)">Diagrid degree at bottom</text>
<line x1="216.23" y1="885.90" x2="216.23" y2="887.89" stroke="#000" stroke-width="0.46"/>
<text x="215.40" y="893.49" font-size="6.01" text-anchor="end" fill="#262626" stroke="#262626" stroke-width="0.10" textLength="60.79" lengthAdjust="spacingAndGlyphs" transform="rotate(-45 215.40 893.49)">Diagrid degree at top</text>
<line x1="234.55" y1="885.90" x2="234.55" y2="887.89" stroke="#000" stroke-width="0.46"/>
<text x="233.71" y="893.49" font-size="6.01" text-anchor="end" fill="#262626" stroke="#262626" stroke-width="0.10" textLength="73.47" lengthAdjust="spacingAndGlyphs" transform="rotate(-45 233.71 893.49)">Displacement of top story</text>
<line x1="252.86" y1="885.90" x2="252.86" y2="887.89" stroke="#000" stroke-width="0.46"/>
<text x="252.03" y="893.49" font-size="6.01" text-anchor="end" fill="#262626" stroke="#262626" stroke-width="0.10" textLength="40.06" lengthAdjust="spacingAndGlyphs" transform="rotate(-45 252.03 893.49)">Elastic energy</text>
<line x1="271.18" y1="885.90" x2="271.18" y2="887.89" stroke="#000" stroke-width="0.46"/>
<text x="270.34" y="893.49" font-size="6.01" text-anchor="end" fill="#262626" stroke="#262626" stroke-width="0.10" textLength="69.39" lengthAdjust="spacingAndGlyphs" transform="rotate(-45 270.34 893.49)">Expected Design Weight</text>
<line x1="289.49" y1="885.90" x2="289.49" y2="887.89" stroke="#000" stroke-width="0.46"/>
<text x="288.66" y="893.49" font-size="6.01" text-anchor="end" fill="#262626" stroke="#262626" stroke-width="0.10" textLength="18.74" lengthAdjust="spacingAndGlyphs" transform="rotate(-45 288.66 893.49)">Height</text>
<line x1="307.81" y1="885.90" x2="307.81" y2="887.89" stroke="#000" stroke-width="0.46"/>
<text x="306.97" y="893.49" font-size="6.01" text-anchor="end" fill="#262626" stroke="#262626" stroke-width="0.10" textLength="94.96" lengthAdjust="spacingAndGlyphs" transform="rotate(-45 306.97 893.49)">MAX NORMAL FORCES ABSOLUTE</text>
<line x1="326.12" y1="885.90" x2="326.12" y2="887.89" stroke="#000" stroke-width="0.46"/>
<text x="325.29" y="893.49" font-size="6.01" text-anchor="end" fill="#262626" stroke="#262626" stroke-width="0.10" textLength="106.99" lengthAdjust="spacingAndGlyphs" transform="rotate(-45 325.29 893.49)">MAX NORMAL FORCES COMPRESSION</text>
<line x1="344.44" y1="885.90" x2="344.44" y2="887.89" stroke="#000" stroke-width="0.46"/>
<text x="343.60" y="893.49" font-size="6.01" text-anchor="end" fill="#262626" stroke="#262626" stroke-width="0.10" textLength="90.42" lengthAdjust="spacingAndGlyphs" transform="rotate(-45 343.60 893.49)">MAX NORMAL FORCES TENSION</text>
<line x1="362.75" y1="885.90" x2="362.75" y2="887.89" stroke="#000" stroke-width="0.46"/>
<text x="361.92" y="893.49" font-size="6.01" text-anchor="end" fill="#262626" stroke="#262626" stroke-width="0.10" textLength="81.46" lengthAdjust="spacingAndGlyphs" transform="rotate(-45 361.92 893.49)">MAX Utilization Compression</text>
<line x1="381.07" y1="885.90" x2="381.07" y2="887.89" stroke="#000" stroke-width="0.46"/>
<text x="380.23" y="893.49" font-size="6.01" text-anchor="end" fill="#262626" stroke="#262626" stroke-width="0.10" textLength="65.84" lengthAdjust="spacingAndGlyphs" transform="rotate(-45 380.23 893.49)">MAX Utilization Tension</text>
<line x1="399.38" y1="885.90" x2="399.38" y2="887.89" stroke="#000" stroke-width="0.46"/>
<text x="398.55" y="893.49" font-size="6.01" text-anchor="end" fill="#262626" stroke="#262626" stroke-width="0.10" textLength="54.83" lengthAdjust="spacingAndGlyphs" transform="rotate(-45 398.55 893.49)">Top plan side count</text>
<line x1="417.70" y1="885.90" x2="417.70" y2="887.89" stroke="#000" stroke-width="0.46"/>
<text x="416.86" y="893.49" font-size="6.01" text-anchor="end" fill="#262626" stroke="#262626" stroke-width="0.10" textLength="49.79" lengthAdjust="spacingAndGlyphs" transform="rotate(-45 416.86 893.49)">Total Façade Area</text>
<line x1="436.01" y1="885.90" x2="436.01" y2="887.89" stroke="#000" stroke-width="0.46"/>
<text x="435.18" y="893.49" font-size="6.01" text-anchor="end" fill="#262626" stroke="#262626" stroke-width="0.10" textLength="45.87" lengthAdjust="spacingAndGlyphs" transform="rotate(-45 435.18 893.49)">Total Gross Area</text>
<line x1="454.33" y1="885.90" x2="454.33" y2="887.89" stroke="#000" stroke-width="0.46"/>
<text x="453.49" y="893.49" font-size="6.01" text-anchor="end" fill="#262626" stroke="#262626" stroke-width="0.10" textLength="29.32" lengthAdjust="spacingAndGlyphs" transform="rotate(-45 453.49 893.49)">Total Mass</text>
<line x1="472.64" y1="885.90" x2="472.64" y2="887.89" stroke="#000" stroke-width="0.46"/>
<text x="471.81" y="893.49" font-size="6.01" text-anchor="end" fill="#262626" stroke="#262626" stroke-width="0.10" textLength="69.47" lengthAdjust="spacingAndGlyphs" transform="rotate(-45 471.81 893.49)">Total amount of Diagrids</text>
<text x="298.65" y="503.90" font-size="7.23" text-anchor="middle" fill="#262626" stroke="#262626" stroke-width="0.10" textLength="132.93" lengthAdjust="spacingAndGlyphs">Numerical correlation (Synthetic  data)</text>
<defs><linearGradient id="g506" x1="0" y1="0" x2="0" y2="1"><stop offset="0.0000" stop-color="#000004"/><stop offset="0.0156" stop-color="#000009"/><stop offset="0.0312" stop-color="#020113"/><stop offset="0.0469" stop-color="#04021e"/><stop offset="0.0625" stop-color="#080428"/><stop offset="0.0781" stop-color="#0d0534"/><stop offset="0.0938" stop-color="#13063f"/><stop offset="0.1094" stop-color="#1a064b"/><stop offset="0.1250" stop-color="#220556"/><stop offset="0.1406" stop-color="#2c0361"/><stop offset="0.1562" stop-color="#36006b"/><stop offset="0.1719" stop-color="#420072"/><stop offset="0.1875" stop-color="#4c0078"/><stop offset="0.2031" stop-color="#55007c"/><stop offset="0.2188" stop-color="#5d007f"/><stop offset="0.2344" stop-color="#650182"/><stop offset="0.2500" stop-color="#6d0483"/><stop offset="0.2656" stop-color="#760784"/><stop offset="0.2812" stop-color="#7e0a84"/><stop offset="0.2969" stop-color="#850d83"/><stop offset="0.3125" stop-color="#85107a"/><stop offset="0.3281" stop-color="#8d1278"/><stop offset="0.3438" stop-color="#941476"/><stop offset="0.3594" stop-color="#9c1773"/><stop offset="0.3750" stop-color="#a4196f"/><stop offset="0.3906" stop-color="#ab1b6d"/><stop offset="0.4062" stop-color="#b31d6c"/><stop offset="0.4219" stop-color="#ba1f6b"/><stop offset="0.4375" stop-color="#c22167"/><stop offset="0.4531" stop-color="#c92463"/><stop offset="0.4688" stop-color="#d1265d"/><stop offset="0.4844" stop-color="#d82958"/><stop offset="0.5000" stop-color="#df2d52"/><stop offset="0.5156" stop-color="#e6304c"/><stop offset="0.5312" stop-color="#ed3546"/><stop offset="0.5469" stop-color="#f43a40"/><stop offset="0.5625" stop-color="#fa443f"/><stop offset="0.5781" stop-color="#ff4736"/><stop offset="0.5938" stop-color="#ff4b2e"/><stop offset="0.6094" stop-color="#ff5026"/><stop offset="0.6250" stop-color="#ff551f"/><stop offset="0.6406" stop-color="#ff5a18"/><stop offset="0.6562" stop-color="#ff6011"/><stop offset="0.6719" stop-color="#ff660a"/><stop offset="0.6875" stop-color="#ff6c04"/><stop offset="0.7031" stop-color="#ff7400"/><stop offset="0.7188" stop-color="#ff7e00"/><stop offset="0.7344" stop-color="#ff8800"/><stop offset="0.7500" stop-color="#ff9200"/><stop offset="0.7656" stop-color="#ff9a00"/><stop offset="0.7812" stop-color="#ffa100"/><stop offset="0.7969" stop-color="#ffa700"/><stop offset="0.8125" stop-color="#ffac00"/><stop offset="0.8281" stop-color="#ffb200"/><stop offset="0.8438" stop-color="#ffb802"/><stop offset="0.8594" stop-color="#ffc10d"/><stop offset="0.8750" stop-color="#ffcb19"/><stop offset="0.8906" stop-color="#ffd526"/><stop offset="0.9062" stop-color="#ffdf34"/><stop offset="0.9219" stop-color="#ffea48"/><stop offset="0.9375" stop-color="#fff45e"/><stop offset="0.9531" stop-color="#fffc75"/><stop offset="0.9688" stop-color="#fdff88"/><stop offset="0.9844" stop-color="#fbff99"/><stop offset="1.0000" stop-color="#fcffa5"/></linearGradient></defs>
<rect x="504.50" y="506.90" width="18.80" height="379.00" fill="url(#g506)"/>
<line x1="523.30" y1="855.41" x2="525.29" y2="855.41" stroke="#000" stroke-width="0.46"/>
<text x="527.29" y="856.90" font-size="5.72" text-anchor="start" fill="#262626" stroke="#262626" stroke-width="0.10" textLength="16.55" lengthAdjust="spacingAndGlyphs">−0.75</text>
<line x1="523.30" y1="804.25" x2="525.29" y2="804.25" stroke="#000" stroke-width="0.46"/>
<text x="527.29" y="805.74" font-size="5.72" text-anchor="start" fill="#262626" stroke="#262626" stroke-width="0.10" textLength="16.55" lengthAdjust="spacingAndGlyphs">−0.50</text>
<line x1="523.30" y1="753.09" x2="525.29" y2="753.09" stroke="#000" stroke-width="0.46"/>
<text x="527.29" y="754.58" font-size="5.72" text-anchor="start" fill="#262626" stroke="#262626" stroke-width="0.10" textLength="16.55" lengthAdjust="spacingAndGlyphs">−0.25</text>
<line x1="523.30" y1="701.93" x2="525.29" y2="701.93" stroke="#000" stroke-width="0.46"/>
<text x="527.29" y="703.42" font-size="5.72" text-anchor="start" fill="#262626" stroke="#262626" stroke-width="0.10" textLength="12.02" lengthAdjust="spacingAndGlyphs">0.00</text>
<line x1="523.30" y1="650.76" x2="525.29" y2="650.76" stroke="#000" stroke-width="0.46"/>
<text x="527.29" y="652.25" font-size="5.72" text-anchor="start" fill="#262626" stroke="#262626" stroke-width="0.10" textLength="12.02" lengthAdjust="spacingAndGlyphs">0.25</text>
<line x1="523.30" y1="599.60" x2="525.29" y2="599.60" stroke="#000" stroke-width="0.46"/>
<text x="527.29" y="601.09" font-size="5.72" text-anchor="start" fill="#262626" stroke="#262626" stroke-width="0.10" textLength="12.02" lengthAdjust="spacingAndGlyphs">0.50</text>
<line x1="523.30" y1="548.44" x2="525.29" y2="548.44" stroke="#000" stroke-width="0.46"/>
<text x="527.29" y="549.93" font-size="5.72" text-anchor="start" fill="#262626" stroke="#262626" stroke-width="0.10" textLength="12.02" lengthAdjust="spacingAndGlyphs">0.75</text>
<path d="M31.90 102.20 L253.71 102.20 L253.71 371.30 L237.18 371.30 L237.18 119.06 L31.90 119.06 Z" fill="none" stroke="#00f0f0" stroke-width="2.00" stroke-linejoin="miter"/>
<path d="M31.90 138.12 L288.57 138.12 L288.57 371.30 L272.04 371.30 L272.04 154.98 L31.90 154.98 Z" fill="none" stroke="#00f0f0" stroke-width="2.00" stroke-linejoin="miter"/>
<path d="M31.90 227.92 L375.72 227.92 L375.72 371.30 L359.19 371.30 L359.19 244.78 L31.90 244.78 Z" fill="none" stroke="#00f0f0" stroke-width="2.00" stroke-linejoin="miter"/>
<text x="275.5" y="489.6" font-size="16" font-weight="bold" text-anchor="middle" fill="#111" style="font-family:'Liberation Serif',serif">(a)</text>
<text x="275.5" y="989.8" font-size="16" font-weight="bold" text-anchor="middle" fill="#111" style="font-family:'Liberation Serif',serif">(b)</text>
</svg></body></html>
